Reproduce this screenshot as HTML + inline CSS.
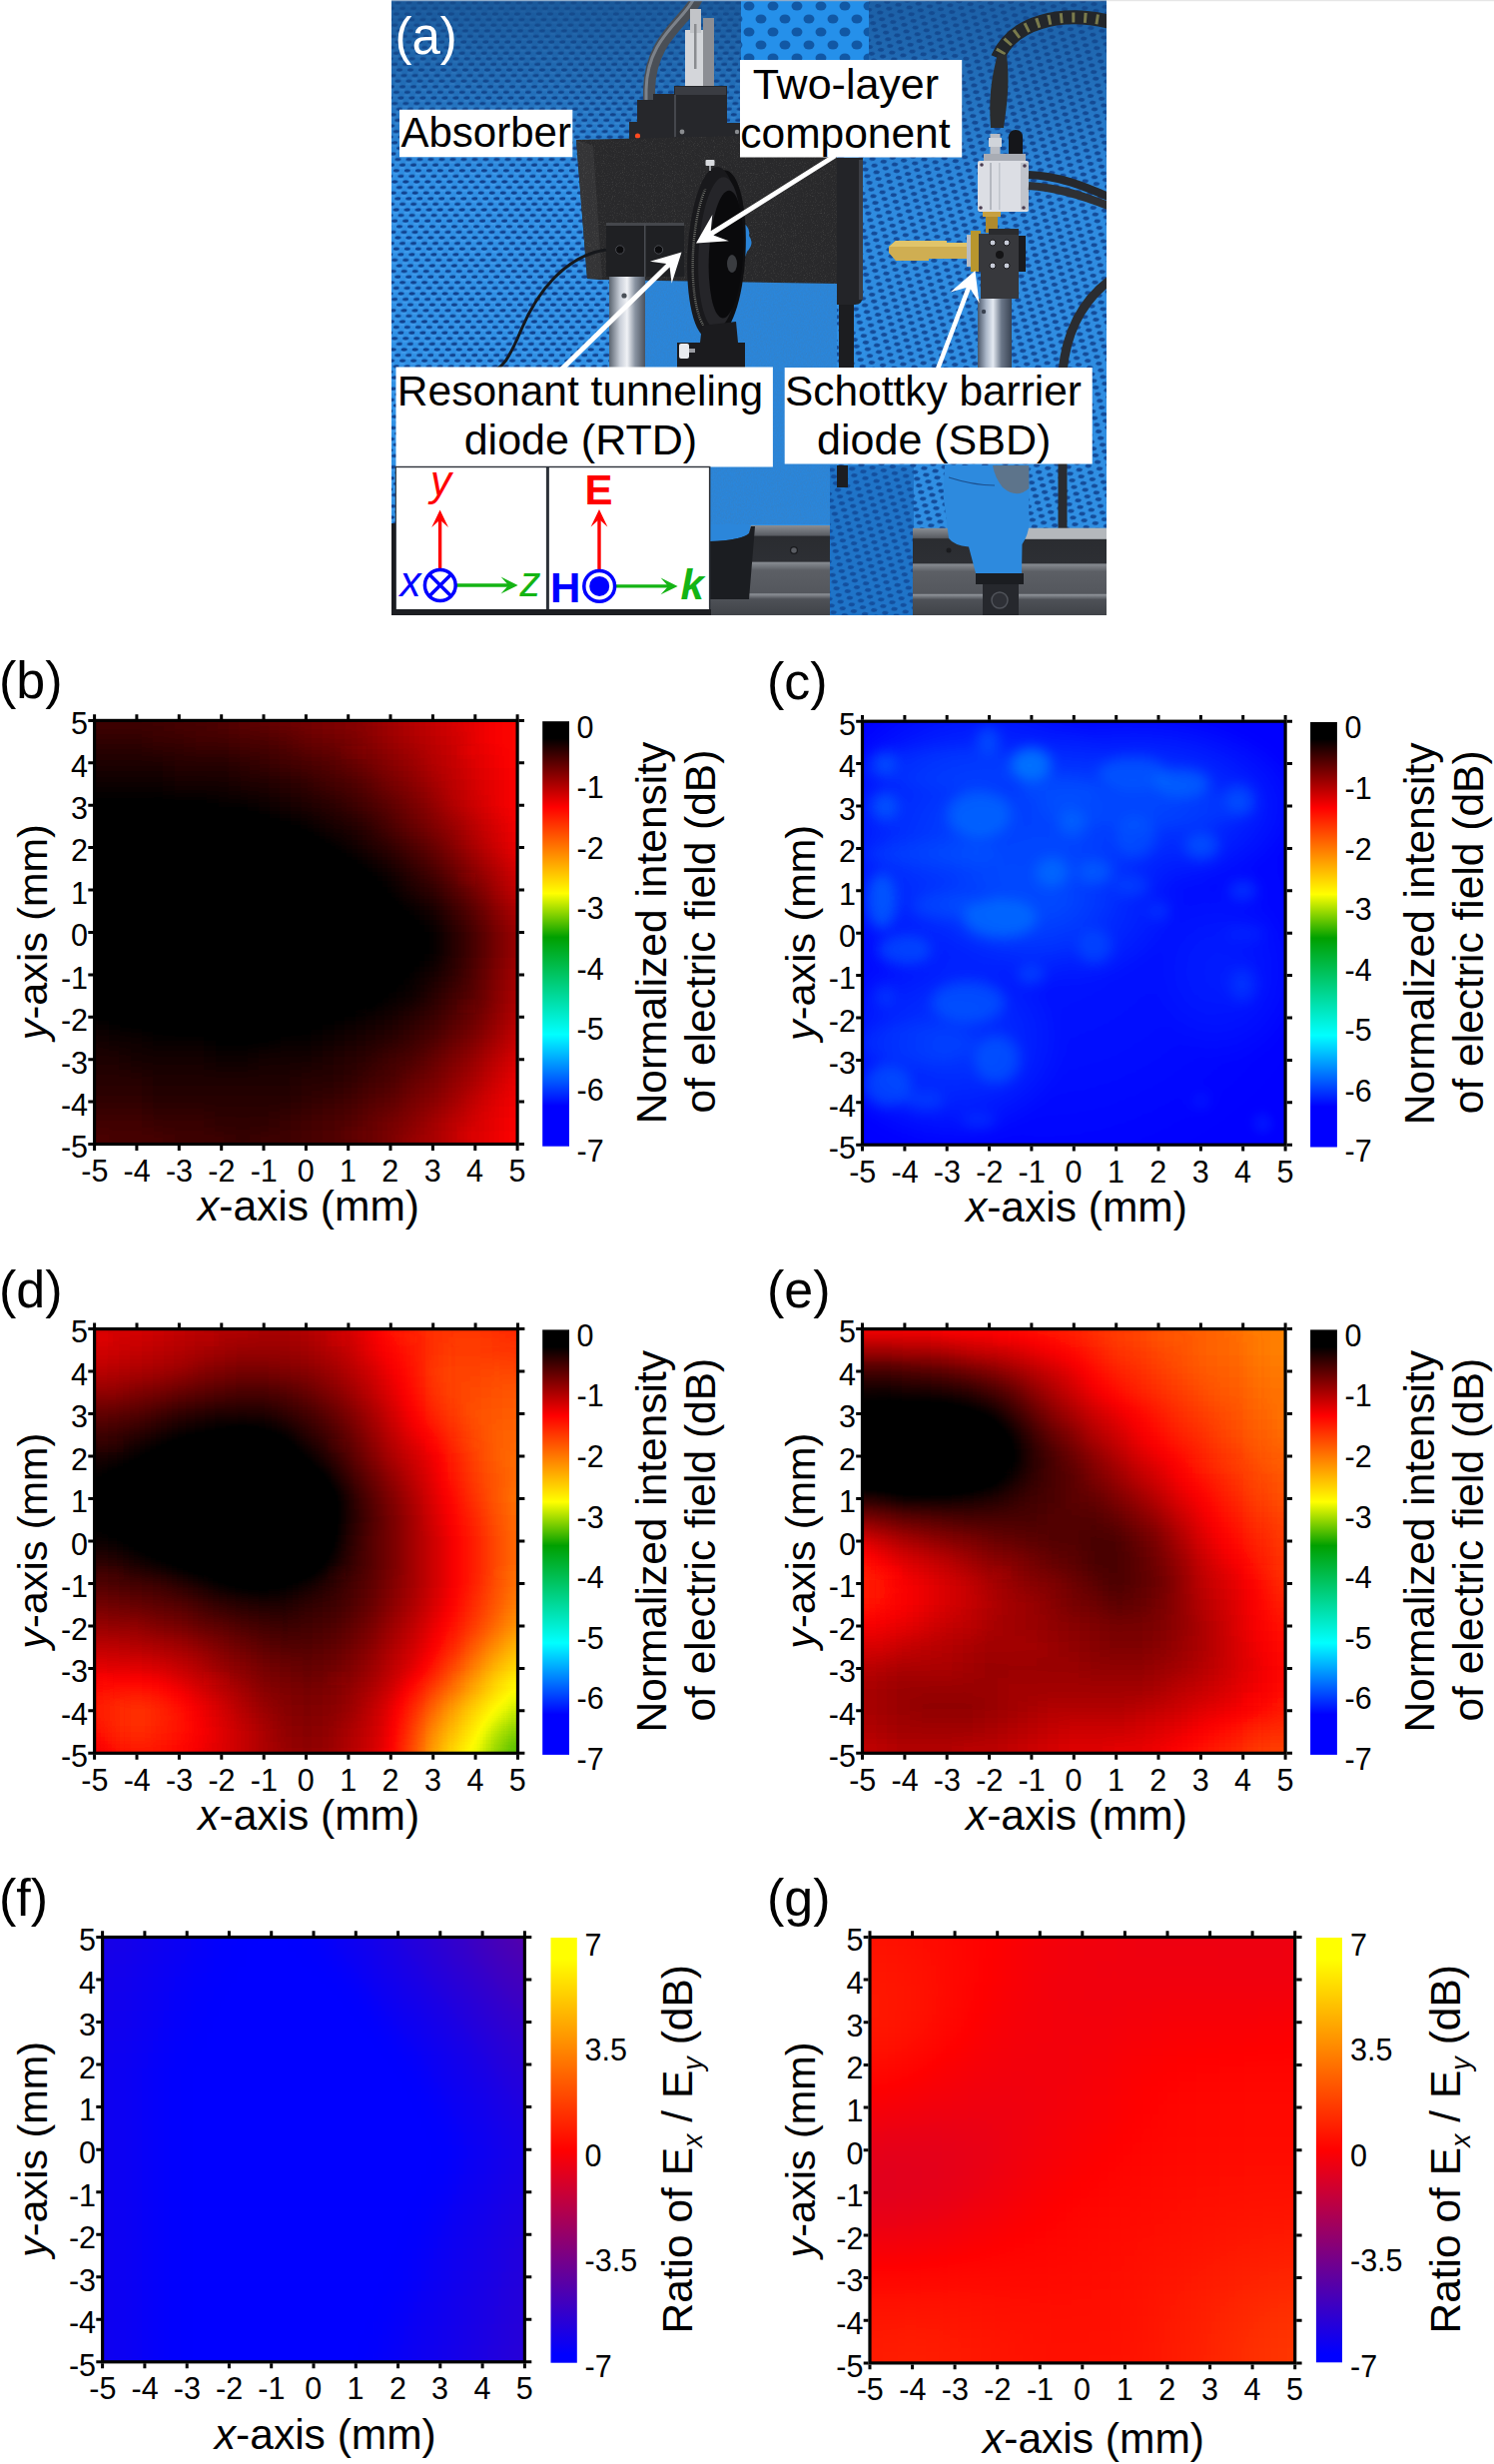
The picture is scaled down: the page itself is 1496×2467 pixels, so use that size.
<!DOCTYPE html>
<html><head><meta charset="utf-8"><title>Figure</title>
<style>
html,body{margin:0;padding:0;background:#fff;}
svg{display:block;}
text{font-family:'Liberation Sans', sans-serif;fill:#000;}
</style></head><body>
<svg width="1496" height="2467" viewBox="0 0 1496 2467">
<defs>
<linearGradient id="cm1" x1="0" y1="0" x2="0" y2="1"><stop offset="0.000" stop-color="#000000"/><stop offset="0.040" stop-color="#000000"/><stop offset="0.202" stop-color="#ff0000"/><stop offset="0.405" stop-color="#ffff00"/><stop offset="0.508" stop-color="#00a000"/><stop offset="0.737" stop-color="#00ffff"/><stop offset="0.905" stop-color="#0000ff"/><stop offset="1.000" stop-color="#0000ff"/></linearGradient>
<linearGradient id="cm2" x1="0" y1="0" x2="0" y2="1"><stop offset="0.000" stop-color="#ffff00"/><stop offset="0.050" stop-color="#ffff00"/><stop offset="0.500" stop-color="#ff0000"/><stop offset="0.980" stop-color="#0000ff"/><stop offset="1.000" stop-color="#0000ff"/></linearGradient>
<filter id="fB" filterUnits="userSpaceOnUse" x="-100" y="-100" width="700" height="700" color-interpolation-filters="sRGB"><feGaussianBlur stdDeviation="9"/><feComponentTransfer><feFuncR type="table" tableValues="0.000 0.000 0.000 0.000 0.000 0.000 0.000 0.000 0.000 0.000 0.000 0.000 0.000 0.000 0.000 0.000 0.000 0.061 0.131 0.202 0.272 0.342 0.412 0.482 0.553 0.623 0.693 0.763 0.833 0.904 0.974 1.000 1.000 1.000 1.000 1.000 1.000 1.000 1.000 1.000 1.000 1.000 1.000 1.000 1.000 1.000 1.000 1.000 1.000 0.925 0.815 0.705 0.595 0.485 0.375 0.265 0.155 0.045 0.000 0.000 0.000 0.000 0.000 0.000"/><feFuncG type="table" tableValues="0.000 0.000 0.000 0.000 0.000 0.000 0.000 0.000 0.000 0.000 0.000 0.000 0.000 0.000 0.000 0.000 0.000 0.000 0.000 0.000 0.000 0.000 0.000 0.000 0.000 0.000 0.000 0.000 0.000 0.000 0.000 0.035 0.091 0.146 0.202 0.258 0.314 0.369 0.425 0.481 0.536 0.592 0.648 0.704 0.759 0.815 0.871 0.926 0.982 0.972 0.931 0.890 0.849 0.808 0.767 0.726 0.685 0.644 0.638 0.657 0.675 0.694 0.712 0.731"/><feFuncB type="table" tableValues="0.000 0.000 0.000 0.000 0.000 0.000 0.000 0.000 0.000 0.000 0.000 0.000 0.000 0.000 0.000 0.000 0.000 0.000 0.000 0.000 0.000 0.000 0.000 0.000 0.000 0.000 0.000 0.000 0.000 0.000 0.000 0.000 0.000 0.000 0.000 0.000 0.000 0.000 0.000 0.000 0.000 0.000 0.000 0.000 0.000 0.000 0.000 0.000 0.000 0.000 0.000 0.000 0.000 0.000 0.000 0.000 0.000 0.000 0.029 0.079 0.128 0.178 0.227 0.277"/><feFuncA type="linear" slope="0" intercept="1"/></feComponentTransfer></filter>
<filter id="fC" filterUnits="userSpaceOnUse" x="-100" y="-100" width="700" height="700" color-interpolation-filters="sRGB"><feGaussianBlur stdDeviation="6.5"/><feComponentTransfer><feFuncR type="table" tableValues="0.000 0.000 0.000 0.000 0.000 0.000 0.000 0.000 0.000 0.000 0.000 0.000 0.000 0.000 0.000 0.000 0.000 0.000 0.000 0.000 0.000 0.000 0.000 0.000 0.000 0.000 0.000 0.000 0.000 0.000 0.000 0.000 0.000 0.000 0.000 0.000 0.000 0.000 0.000 0.000 0.000 0.000 0.000 0.000 0.000 0.000 0.000 0.000 0.000 0.000 0.000 0.000 0.000 0.000 0.000 0.000 0.000 0.000 0.000 0.000 0.000 0.000 0.000 0.000"/><feFuncG type="table" tableValues="0.731 0.742 0.753 0.764 0.775 0.786 0.797 0.808 0.819 0.830 0.841 0.852 0.863 0.875 0.886 0.897 0.908 0.919 0.930 0.941 0.952 0.963 0.974 0.985 0.996 0.973 0.933 0.892 0.852 0.811 0.771 0.730 0.690 0.649 0.609 0.568 0.528 0.487 0.447 0.406 0.366 0.325 0.285 0.244 0.204 0.163 0.123 0.082 0.042 0.001 0.000 0.000 0.000 0.000 0.000 0.000 0.000 0.000 0.000 0.000 0.000 0.000 0.000 0.000"/><feFuncB type="table" tableValues="0.277 0.307 0.336 0.366 0.396 0.426 0.455 0.485 0.515 0.544 0.574 0.604 0.633 0.663 0.693 0.723 0.752 0.782 0.812 0.841 0.871 0.901 0.931 0.960 0.990 1.000 1.000 1.000 1.000 1.000 1.000 1.000 1.000 1.000 1.000 1.000 1.000 1.000 1.000 1.000 1.000 1.000 1.000 1.000 1.000 1.000 1.000 1.000 1.000 1.000 1.000 1.000 1.000 1.000 1.000 1.000 1.000 1.000 1.000 1.000 1.000 1.000 1.000 1.000"/><feFuncA type="linear" slope="0" intercept="1"/></feComponentTransfer></filter>
<filter id="fF" filterUnits="userSpaceOnUse" x="-100" y="-100" width="700" height="700" color-interpolation-filters="sRGB"><feGaussianBlur stdDeviation="20"/><feComponentTransfer><feFuncR type="table" tableValues="1.000 0.983 0.967 0.950 0.934 0.917 0.901 0.884 0.868 0.851 0.835 0.818 0.802 0.785 0.769 0.752 0.735 0.719 0.702 0.686 0.669 0.653 0.636 0.620 0.603 0.587 0.570 0.554 0.537 0.521 0.504 0.487 0.471 0.454 0.438 0.421 0.405 0.388 0.372 0.355 0.339 0.322 0.306 0.289 0.272 0.256 0.239 0.223 0.206 0.190 0.173 0.157 0.140 0.124 0.107 0.091 0.074 0.058 0.041 0.024 0.008 0.000 0.000 0.000"/><feFuncG type="table" tableValues="0.000 0.000 0.000 0.000 0.000 0.000 0.000 0.000 0.000 0.000 0.000 0.000 0.000 0.000 0.000 0.000 0.000 0.000 0.000 0.000 0.000 0.000 0.000 0.000 0.000 0.000 0.000 0.000 0.000 0.000 0.000 0.000 0.000 0.000 0.000 0.000 0.000 0.000 0.000 0.000 0.000 0.000 0.000 0.000 0.000 0.000 0.000 0.000 0.000 0.000 0.000 0.000 0.000 0.000 0.000 0.000 0.000 0.000 0.000 0.000 0.000 0.000 0.000 0.000"/><feFuncB type="table" tableValues="0.000 0.017 0.033 0.050 0.066 0.083 0.099 0.116 0.132 0.149 0.165 0.182 0.198 0.215 0.231 0.248 0.265 0.281 0.298 0.314 0.331 0.347 0.364 0.380 0.397 0.413 0.430 0.446 0.463 0.479 0.496 0.513 0.529 0.546 0.562 0.579 0.595 0.612 0.628 0.645 0.661 0.678 0.694 0.711 0.728 0.744 0.761 0.777 0.794 0.810 0.827 0.843 0.860 0.876 0.893 0.909 0.926 0.942 0.959 0.976 0.992 1.000 1.000 1.000"/><feFuncA type="linear" slope="0" intercept="1"/></feComponentTransfer></filter>
<filter id="fG" filterUnits="userSpaceOnUse" x="-100" y="-100" width="700" height="700" color-interpolation-filters="sRGB"><feGaussianBlur stdDeviation="20"/><feComponentTransfer><feFuncR type="table" tableValues="1.000 1.000 1.000 1.000 1.000 1.000 1.000 1.000 1.000 1.000 1.000 1.000 1.000 1.000 1.000 1.000 1.000 1.000 1.000 1.000 1.000 1.000 1.000 1.000 1.000 1.000 1.000 1.000 1.000 1.000 1.000 1.000 1.000 1.000 1.000 1.000 1.000 0.983 0.967 0.950 0.934 0.917 0.901 0.884 0.868 0.851 0.835 0.818 0.802 0.785 0.769 0.752 0.735 0.719 0.702 0.686 0.669 0.653 0.636 0.620 0.603 0.587 0.570 0.554"/><feFuncG type="table" tableValues="0.635 0.617 0.600 0.582 0.564 0.547 0.529 0.511 0.494 0.476 0.459 0.441 0.423 0.406 0.388 0.370 0.353 0.335 0.317 0.300 0.282 0.265 0.247 0.229 0.212 0.194 0.176 0.159 0.141 0.123 0.106 0.088 0.071 0.053 0.035 0.018 0.000 0.000 0.000 0.000 0.000 0.000 0.000 0.000 0.000 0.000 0.000 0.000 0.000 0.000 0.000 0.000 0.000 0.000 0.000 0.000 0.000 0.000 0.000 0.000 0.000 0.000 0.000 0.000"/><feFuncB type="table" tableValues="0.000 0.000 0.000 0.000 0.000 0.000 0.000 0.000 0.000 0.000 0.000 0.000 0.000 0.000 0.000 0.000 0.000 0.000 0.000 0.000 0.000 0.000 0.000 0.000 0.000 0.000 0.000 0.000 0.000 0.000 0.000 0.000 0.000 0.000 0.000 0.000 0.000 0.017 0.033 0.050 0.066 0.083 0.099 0.116 0.132 0.149 0.165 0.182 0.198 0.215 0.231 0.248 0.265 0.281 0.298 0.314 0.331 0.347 0.364 0.380 0.397 0.413 0.430 0.446"/><feFuncA type="linear" slope="0" intercept="1"/></feComponentTransfer></filter>
<radialGradient id="cg"><stop offset="0" stop-color="#959595" stop-opacity="1"/><stop offset=".55" stop-color="#959595" stop-opacity=".55"/><stop offset="1" stop-color="#959595" stop-opacity="0"/></radialGradient>
<clipPath id="cpb"><rect x="0" y="0" width="423.5" height="424.1"/></clipPath>
<clipPath id="cpc"><rect x="0" y="0" width="423.6" height="424.0"/></clipPath>
<clipPath id="cpd"><rect x="0" y="0" width="423.9" height="424.7"/></clipPath>
<clipPath id="cpe"><rect x="0" y="0" width="423.6" height="424.7"/></clipPath>
<clipPath id="cpf"><rect x="0" y="0" width="422.8" height="425.3"/></clipPath>
<clipPath id="cpg"><rect x="0" y="0" width="425.7" height="426.4"/></clipPath>
</defs>
<rect width="1496" height="2467" fill="#fff"/>
<defs>
<clipPath id="cpa"><rect x="392" y="0" width="716" height="616"/></clipPath>
<pattern id="dim" width="11" height="11.2" patternUnits="userSpaceOnUse" patternTransform="skewX(-8)"><ellipse cx="2.8" cy="2.8" rx="3.1" ry="1.55" fill="#0a3480" opacity=".88"/><ellipse cx="8.3" cy="8.4" rx="3.1" ry="1.55" fill="#0a3480" opacity=".88"/><ellipse cx="2.8" cy="5.8" rx="3" ry="1.2" fill="#58aaf4" opacity=".4"/><ellipse cx="8.3" cy="11.4" rx="3" ry="1.2" fill="#58aaf4" opacity=".4"/><ellipse cx="8.3" cy=".2" rx="3" ry="1.2" fill="#58aaf4" opacity=".4"/></pattern>
<pattern id="dim2" width="11.5" height="12" patternUnits="userSpaceOnUse" patternTransform="rotate(14) skewX(-20)"><ellipse cx="2.9" cy="3" rx="2.9" ry="2" fill="#0b3884" opacity=".78"/><ellipse cx="8.6" cy="9" rx="2.9" ry="2" fill="#0b3884" opacity=".78"/></pattern>
<pattern id="dim3" width="24" height="26" patternUnits="userSpaceOnUse"><ellipse cx="6" cy="6" rx="5.5" ry="4.5" fill="#0c4a94" opacity=".8"/><ellipse cx="18" cy="19" rx="5.5" ry="4.5" fill="#0c4a94" opacity=".8"/></pattern>
<linearGradient id="bgl" x1="0" y1="0" x2="0" y2="1"><stop offset="0" stop-color="#2478c8"/><stop offset=".3" stop-color="#2f8fe4"/><stop offset="1" stop-color="#3092e6"/></linearGradient>
<linearGradient id="shade" x1="0" y1="0" x2="0" y2="1"><stop offset="0" stop-color="#17508e" stop-opacity=".78"/><stop offset=".45" stop-color="#17508e" stop-opacity=".45"/><stop offset="1" stop-color="#17508e" stop-opacity="0"/></linearGradient>
<linearGradient id="bgr" x1="0" y1="0" x2="0" y2="1"><stop offset="0" stop-color="#2272c2"/><stop offset=".35" stop-color="#2f8ce0"/><stop offset="1" stop-color="#3090e4"/></linearGradient>
<linearGradient id="post" x1="0" y1="0" x2="1" y2="0"><stop offset="0" stop-color="#5a6470"/><stop offset=".3" stop-color="#c8ced8"/><stop offset=".5" stop-color="#f0f2f6"/><stop offset=".72" stop-color="#8a94a2"/><stop offset="1" stop-color="#4a525e"/></linearGradient>
<linearGradient id="post2" x1="0" y1="0" x2="1" y2="0"><stop offset="0" stop-color="#4a5668"/><stop offset=".25" stop-color="#aab6c8"/><stop offset=".45" stop-color="#e4eaf2"/><stop offset=".7" stop-color="#6a7688"/><stop offset="1" stop-color="#3a4454"/></linearGradient>
<linearGradient id="rail" x1="0" y1="0" x2="0" y2="1"><stop offset="0" stop-color="#8a8e94"/><stop offset=".11" stop-color="#5a5d63"/><stop offset=".125" stop-color="#2a2c30"/><stop offset=".40" stop-color="#2d2f34"/><stop offset=".415" stop-color="#868a90"/><stop offset=".5" stop-color="#5c5f65"/><stop offset=".75" stop-color="#54575d"/><stop offset=".765" stop-color="#8c9096"/><stop offset=".82" stop-color="#4e5157"/><stop offset="1" stop-color="#404348"/></linearGradient>
<filter id="noise" x="0" y="0" width="1" height="1"><feTurbulence type="fractalNoise" baseFrequency=".9" numOctaves="2" seed="4"/><feColorMatrix values="0 0 0 0 .55  0 0 0 0 .55  0 0 0 0 .5  .9 0 0 0 -.48"/></filter>
<filter id="fnoise" x="0" y="0" width="1" height="1"><feTurbulence type="fractalNoise" baseFrequency=".7" numOctaves="2" seed="9"/><feColorMatrix values="0 0 0 0 .05  0 0 0 0 .2  0 0 0 0 .45  1.6 0 0 0 -.62"/></filter>
<filter id="soft" x="-5%" y="-5%" width="110%" height="110%"><feGaussianBlur stdDeviation=".7"/></filter>
<clipPath id="cpabs"><path d="M577 140L740 136H838V284L600 280L588 279Z"/></clipPath><clipPath id="cpfoam"><path d="M646 276H838V525H700V560H610V420H646ZM600 466H745V540Q745 556 728 562H600Z"/></clipPath><clipPath id="cpring"><rect x="680" y="190" width="34" height="160"/></clipPath></defs>
<g clip-path="url(#cpa)">
<rect x="392" y="0" width="716" height="616" fill="url(#bgl)"/>
<rect x="866" y="0" width="242" height="616" fill="url(#bgr)"/>
<rect x="392" y="0" width="350" height="616" fill="url(#dim)"/>
<rect x="838" y="0" width="270" height="616" fill="url(#dim2)"/>
<rect x="392" y="0" width="350" height="175" fill="url(#shade)"/>
<rect x="866" y="0" width="242" height="170" fill="url(#shade)" opacity=".7"/>
<rect x="742" y="0" width="128" height="62" fill="#2590ea"/>
<rect x="742" y="0" width="128" height="62" fill="url(#dim3)"/>
<path d="M646 276H838V525H700V560H610V420H646Z" fill="#2b86da"/>
<path d="M600 466H745V540Q745 556 728 562H600Z" fill="#2b86da"/>
<rect x="600" y="276" width="240" height="290" filter="url(#fnoise)" clip-path="url(#cpfoam)" opacity=".55"/>
<rect x="831" y="466" width="84" height="150" fill="#1f74c8"/>
<rect x="831" y="466" width="84" height="150" fill="url(#dim2)" opacity=".8"/>
<path d="M699 -4C690 20 651 36 650 90V130" fill="none" stroke="#4a4f56" stroke-width="12" stroke-linecap="round"/>
<path d="M696 -4C687 20 648 36 647 90V130" fill="none" stroke="#7c828a" stroke-width="3"/>
<rect x="686" y="30" width="24" height="57" fill="#d4d6da"/>
<rect x="691" y="9" width="11" height="24" fill="#c2c4c8"/>
<rect x="695" y="24" width="2.5" height="45" fill="#8a8c90"/>
<rect x="704" y="18" width="11" height="69" fill="#8c8e94"/>
<path d="M638 100H654V94H675V86H728V123H741V140H630V122H638Z" fill="#26272b"/>
<rect x="676" y="87" width="51" height="8" fill="#3a3c42"/>
<rect x="675" y="95" width="2" height="42" fill="#45474d"/>
<circle cx="638.5" cy="136" r="2.6" fill="#ff4a20"/>
<circle cx="683" cy="132" r="2.4" fill="#8a8c90"/><circle cx="738" cy="132" r="2.2" fill="#8a8c90"/>
<path d="M577 140L740 136H838V284L600 280L588 279Z" fill="#29292b"/>
<path d="M577 140L594 146L603 279L588 279Z" fill="#343436"/>
<rect x="577" y="136" width="262" height="150" filter="url(#noise)" opacity=".5" clip-path="url(#cpabs)"/>
<path d="M741 222Q752 226 750 236Q756 244 748 252Q746 260 740 262Z" fill="#2a84d8"/>
<path d="M838 158H864V296Q864 305 856 305H838Z" fill="#232428"/>
<rect x="860" y="160" width="4" height="140" fill="#3c3e44"/>
<rect x="840" y="305" width="15" height="64" fill="#1c1d20"/>
<rect x="838" y="466" width="11" height="22" fill="#1c1d20"/>
<rect x="610" y="276" width="36" height="92" fill="url(#post)"/>
<circle cx="625" cy="296" r="2.6" fill="#4a5058"/>
<rect x="607" y="223" width="78" height="54" fill="#1f2023"/>
<rect x="607" y="223" width="78" height="3" fill="#45474c"/>
<rect x="645" y="224" width="1.5" height="53" fill="#4a4c52"/>
<circle cx="620.8" cy="250" r="4.2" fill="#0c0c0e" stroke="#4a4c52" stroke-width="1"/>
<circle cx="659.5" cy="250" r="4.2" fill="#0c0c0e" stroke="#4a4c52" stroke-width="1"/>
<path d="M607 250C566 256 538 292 522 330S502 366 494 372" fill="none" stroke="#16181c" stroke-width="3"/>
<g transform="rotate(3 716 253)">
<ellipse cx="722" cy="253" rx="24.5" ry="83" fill="#0e0e10"/>
<ellipse cx="714" cy="253" rx="25.5" ry="86" fill="#19191c"/>
<ellipse cx="721" cy="253" rx="21.5" ry="76" fill="#252529"/>
<ellipse cx="727" cy="254" rx="17" ry="64" fill="#0a0a0c"/>
<ellipse cx="716.5" cy="253" rx="22.5" ry="79" fill="none" stroke="#85877f" stroke-width="2.4" stroke-dasharray=".8 1.4" pathLength="360" stroke-dashoffset="0" clip-path="url(#cpring)"/>
</g>
<ellipse cx="733" cy="264" rx="5" ry="9" fill="#3a3c40"/>
<rect x="706.5" y="160" width="9" height="6" rx="1" fill="#d8dade"/><rect x="710" y="166" width="2" height="5" fill="#9a9ca0"/>
<path d="M703 326L737 322L739 343H746V368H678V343H701Z" fill="#1b1b1e"/>
<rect x="680" y="344" width="10" height="15" rx="2" fill="#e8eaee"/>
<rect x="690" y="349" width="6" height="4" fill="#9a9ca2"/>
<path d="M1112 22C1062 10 1014 22 999 58" fill="none" stroke="#23262a" stroke-width="14"/>
<path d="M1112 22C1062 10 1014 22 999 58" fill="none" stroke="#a8a860" stroke-width="10" stroke-dasharray="3 9" opacity=".65"/>
<path d="M999 54C992 80 990 100 992 128H1005C1009 100 1011 80 1008 55Z" fill="#2a2c2e"/>
<rect x="991.5" y="134" width="10" height="20" fill="#b8bcc4"/><rect x="990" y="138" width="13" height="9" fill="#d0d4da"/>
<path d="M1010 157V138Q1010 130 1017 130Q1024 130 1024 138V157Z" fill="#15161a"/>
<rect x="985" y="154" width="42" height="8" fill="#a8acb4"/>
<rect x="979" y="161" width="51" height="51" rx="2" fill="#dcdee4"/>
<rect x="991" y="163" width="2" height="47" fill="#b4b8c0"/><rect x="1000" y="163" width="1.5" height="47" fill="#c0c4cc"/>
<rect x="1022" y="163" width="8" height="47" fill="#c0c4cc"/>
<circle cx="983" cy="165" r="1.8" fill="#4a3c50"/>
<circle cx="1026" cy="166" r="1.8" fill="#4a3c50"/>
<circle cx="982" cy="208" r="1.8" fill="#4a3c50"/>
<circle cx="1025" cy="208" r="1.8" fill="#4a3c50"/>
<path d="M1030 175C1060 176 1085 186 1112 198" fill="none" stroke="#26282c" stroke-width="8"/>
<path d="M1030 186C1060 188 1085 196 1112 207" fill="none" stroke="#2e3034" stroke-width="8"/>
<rect x="987" y="213" width="12" height="20" fill="#b08a2c"/><rect x="984" y="212" width="18" height="5" fill="#c8a040"/>
<path d="M890 247L897 241H948V243H969V259H930V261H897L890 253Z" fill="#cfae52"/>
<path d="M890 247L897 241H948V243H969V247Z" fill="#e0c46a"/>
<rect x="968" y="235" width="5" height="32" fill="#b8bcc4"/>
<rect x="972" y="231" width="10" height="41" fill="#b8962e"/>
<path d="M980 234H1020V299H982V272H980Z" fill="#37383c"/>
<rect x="1020" y="236" width="7" height="36" fill="#1a1b1e"/>
<rect x="990" y="229" width="30" height="6" fill="#2a2b2e"/>
<circle cx="994" cy="243" r="3" fill="#c8ccd8" stroke="#1a1a1e" stroke-width="1"/>
<circle cx="1008" cy="243" r="3" fill="#c8ccd8" stroke="#1a1a1e" stroke-width="1"/>
<circle cx="994" cy="266" r="3" fill="#c8ccd8" stroke="#1a1a1e" stroke-width="1"/>
<circle cx="1008" cy="266" r="3" fill="#c8ccd8" stroke="#1a1a1e" stroke-width="1"/>
<circle cx="1001" cy="255" r="4" fill="#141416"/>
<rect x="979" y="299" width="34" height="70" fill="url(#post2)"/>
<circle cx="985" cy="312" r="2.2" fill="#3a4250"/>
<path d="M1112 280C1085 300 1068 330 1064 372V530" fill="none" stroke="#2a2c30" stroke-width="9"/>
<path d="M392 524H600V616H392Z" fill="#1a1b1f"/>
<rect x="711" y="526" width="120" height="90" fill="url(#rail)"/>
<path d="M700 525H752L750 534Q742 541 711 542H700Z" fill="#2b86da"/>
<path d="M700 542H711Q742 541 750 534L752 527H756L750 600H700Z" fill="#1b1d21"/>
<circle cx="795" cy="551" r="3.4" fill="#5a5d63" stroke="#18191c" stroke-width="1.2"/>
<rect x="914" y="528.8" width="194" height="87.2" fill="url(#rail)"/>
<rect x="1026" y="528.8" width="82" height="11" fill="#b4b8bc"/>
<circle cx="950" cy="551" r="2.5" fill="#1a1b1e"/>
<rect x="977" y="574" width="48" height="11" fill="#1b1d21"/>
<rect x="984" y="585" width="36" height="31" fill="#26282d"/>
<circle cx="1001" cy="601" r="8" fill="#2e3036" stroke="#50535a" stroke-width="1.5"/>
<path d="M946 466L944.6 497L950 539Q955 546 970 547.5L977 574H1023L1023.5 545Q1030 535 1030.3 525V466Z" fill="#2d8ade"/>
<path d="M994 466H1030.3V489Q1018 500 1004 488Q996 478 994 466Z" fill="#66707c" opacity=".85"/>
<path d="M950 478Q975 486 996 486" fill="none" stroke="#1c4f8c" stroke-width="1.2"/>
<path d="M834.7 153.9L711.7 231.3L713.3 214.9L697.0 243.5L729.8 241.2L714.4 235.5L837.3 158.1Z" fill="#fff"/>
<path d="M561.7 373.8L670.6 267.6L672.6 283.8L682.5 252.5L650.9 261.7L667.2 264.0L558.3 370.2Z" fill="#fff"/>
<path d="M940.1 372.8L971.8 289.6L980.6 303.6L976.4 271.0L951.6 292.6L967.5 287.9L935.9 371.2Z" fill="#fff"/>
<rect x="400" y="109.8" width="173.3" height="47.4" fill="#fff"/>
<text x="401.5" y="147.3" font-size="42">Absorber</text>
<rect x="741" y="60" width="222.2" height="97.5" fill="#fff"/>
<text x="846.9" y="99" font-size="43" text-anchor="middle">Two-layer</text>
<text x="846.4" y="148" font-size="42.5" text-anchor="middle">component</text>
<rect x="396.5" y="367.5" width="377.4" height="100" fill="#fff"/>
<text x="581" y="405.6" font-size="42.5" text-anchor="middle">Resonant tunneling</text>
<text x="581.4" y="454.6" font-size="43" text-anchor="middle">diode (RTD)</text>
<rect x="785.7" y="368" width="308" height="96.5" fill="#fff"/>
<text x="934.5" y="406.3" font-size="42.4" text-anchor="middle">Schottky barrier</text>
<text x="935.2" y="454.6" font-size="43" text-anchor="middle">diode (SBD)</text>
<text x="395.5" y="53.5" font-size="51" style="fill:#fff">(a)</text>
<rect x="395.8" y="466.8" width="315.6" height="145" fill="#2c3138"/>
<rect x="396.9" y="468.2" width="150" height="141.8" fill="#fff"/>
<rect x="549.9" y="468.2" width="160" height="141.8" fill="#fff"/>
<rect x="392" y="610" width="320" height="6" fill="#1c1e22"/>
<path d="M440.6 570.0V518.5" stroke="#ff0000" stroke-width="3.4" fill="none"/><path d="M440.6 510.5l8.4 17.5l-8.4 -7.5l-8.4 7.5z" fill="#ff0000"/>
<path d="M457.0 586.0H510.6" stroke="#14b414" stroke-width="3.4" fill="none"/><path d="M518.6 586.0l-17 8.4l7.5 -8.4l-7.5 -8.4z" fill="#14b414"/>
<circle cx="440.8" cy="586" r="15.4" fill="#fff" stroke="#0000ff" stroke-width="3.5"/>
<path d="M430 575.2L451.6 596.8M451.6 575.2L430 596.8" stroke="#0000ff" stroke-width="3.4"/>
<text x="400.5" y="596.7" font-size="42" font-style="italic" style="fill:#0000ff">x</text>
<text x="520.5" y="596.7" font-size="42" font-style="italic" style="fill:#14b414">z</text>
<text x="431" y="496" font-size="42" font-style="italic" style="fill:#ff0000">y</text>
<path d="M600.0 570.0V518.0" stroke="#ff0000" stroke-width="3.4" fill="none"/><path d="M600.0 510.0l8.4 17.5l-8.4 -7.5l-8.4 7.5z" fill="#ff0000"/>
<path d="M617.0 586.9H670.6" stroke="#14b414" stroke-width="3.4" fill="none"/><path d="M678.6 586.9l-17 8.4l7.5 -8.4l-7.5 -8.4z" fill="#14b414"/>
<circle cx="600.2" cy="586.9" r="15.4" fill="#fff" stroke="#0000ff" stroke-width="3.5"/>
<circle cx="600.2" cy="586.9" r="10" fill="#0000ff"/>
<text x="551" y="602.8" font-size="42" font-weight="bold" style="fill:#0000ff">H</text>
<text x="585.5" y="504.8" font-size="42" font-weight="bold" style="fill:#ff0000">E</text>
<text x="681.5" y="600.4" font-size="42" font-weight="bold" font-style="italic" style="fill:#14b414">k</text>
</g>
<rect x="392" y="0" width="716" height="1.2" fill="#8faccb"/><rect x="1108" y="0" width="388" height="1.2" fill="#e6e6e6"/>
<g transform="translate(94.6 721.4)"><g clip-path="url(#cpb)"><g filter="url(#fB)"><path fill="#242424" d="M95.3 180h21.7v21.7h-21.7zM52.9 201.2h106.4v21.7h-106.4zM52.9 222.3h106.4v21.7h-106.4z"/><path fill="#262626" d="M52.9 180h42.9v21.7h-42.9zM116.5 180h42.9v21.7h-42.9zM31.8 201.2h21.7v21.7h-21.7zM158.8 201.2h21.7v21.7h-21.7zM31.8 222.3h21.7v21.7h-21.7zM158.8 222.3h21.7v21.7h-21.7zM74.1 243.5h64v21.7h-64z"/><path fill="#282828" d="M74.1 158.8h64v21.7h-64zM31.8 180h21.7v21.7h-21.7zM158.8 180h21.7v21.7h-21.7zM180 201.2h21.7v21.7h-21.7zM180 222.3h21.7v21.7h-21.7zM31.8 243.5h42.9v21.7h-42.9zM137.6 243.5h42.9v21.7h-42.9z"/><path fill="#2a2a2a" d="M52.9 158.8h21.7v21.7h-21.7zM137.6 158.8h21.7v21.7h-21.7zM180 180h21.7v21.7h-21.7zM10.6 201.2h21.7v21.7h-21.7zM10.6 222.3h21.7v21.7h-21.7z"/><path fill="#2c2c2c" d="M31.8 158.8h21.7v21.7h-21.7zM158.8 158.8h21.7v21.7h-21.7zM10.6 180h21.7v21.7h-21.7zM201.2 180h21.7v21.7h-21.7zM201.2 201.2h21.7v21.7h-21.7zM201.2 222.3h21.7v21.7h-21.7zM10.6 243.5h21.7v21.7h-21.7zM180 243.5h21.7v21.7h-21.7z"/><path fill="#2e2e2e" d="M74.1 137.6h64v21.7h-64zM10.6 158.8h21.7v21.7h-21.7zM180 158.8h21.7v21.7h-21.7zM-52.9 180h64v21.7h-64zM-52.9 201.2h64v21.7h-64zM222.3 201.2h21.7v21.7h-21.7zM-52.9 222.3h64v21.7h-64zM222.3 222.3h21.7v21.7h-21.7zM201.2 243.5h21.7v21.7h-21.7z"/><path fill="#303030" d="M31.8 137.6h42.9v21.7h-42.9zM137.6 137.6h21.7v21.7h-21.7zM-52.9 158.8h64v21.7h-64zM201.2 158.8h21.7v21.7h-21.7zM222.3 180h21.7v21.7h-21.7zM-52.9 243.5h64v21.7h-64zM222.3 243.5h21.7v21.7h-21.7zM74.1 264.7h85.2v21.7h-85.2z"/><path fill="#323232" d="M10.6 137.6h21.7v21.7h-21.7zM158.8 137.6h21.7v21.7h-21.7zM243.5 222.3h21.7v21.7h-21.7zM52.9 264.7h21.7v21.7h-21.7zM158.8 264.7h42.9v21.7h-42.9z"/><path fill="#343434" d="M-52.9 137.6h64v21.7h-64zM180 137.6h21.7v21.7h-21.7zM222.3 158.8h21.7v21.7h-21.7zM243.5 180h21.7v21.7h-21.7zM243.5 201.2h21.7v21.7h-21.7zM243.5 243.5h21.7v21.7h-21.7zM31.8 264.7h21.7v21.7h-21.7z"/><path fill="#363636" d="M31.8 116.5h127.6v21.7h-127.6zM201.2 137.6h21.7v21.7h-21.7zM264.7 222.3h21.7v21.7h-21.7zM10.6 264.7h21.7v21.7h-21.7zM201.2 264.7h21.7v21.7h-21.7z"/><path fill="#383838" d="M-52.9 116.5h85.2v21.7h-85.2zM158.8 116.5h21.7v21.7h-21.7zM243.5 158.8h21.7v21.7h-21.7zM264.7 201.2h21.7v21.7h-21.7zM264.7 243.5h21.7v21.7h-21.7zM222.3 264.7h21.7v21.7h-21.7z"/><path fill="#3a3a3a" d="M52.9 95.3h42.9v21.7h-42.9zM180 116.5h21.7v21.7h-21.7zM222.3 137.6h21.7v21.7h-21.7zM264.7 180h21.7v21.7h-21.7zM-52.9 264.7h64v21.7h-64zM243.5 264.7h21.7v21.7h-21.7zM116.5 285.9h64v21.7h-64z"/><path fill="#3c3c3c" d="M-52.9 95.3h106.4v21.7h-106.4zM95.3 95.3h64v21.7h-64zM201.2 116.5h21.7v21.7h-21.7zM285.9 201.2h21.7v21.7h-21.7zM285.9 222.3h21.7v21.7h-21.7zM74.1 285.9h42.9v21.7h-42.9zM180 285.9h21.7v21.7h-21.7z"/><path fill="#3e3e3e" d="M158.8 95.3h21.7v21.7h-21.7zM243.5 137.6h21.7v21.7h-21.7zM264.7 158.8h21.7v21.7h-21.7zM285.9 180h21.7v21.7h-21.7zM307 201.2h21.7v21.7h-21.7zM307 222.3h21.7v21.7h-21.7zM285.9 243.5h21.7v21.7h-21.7zM264.7 264.7h21.7v21.7h-21.7zM31.8 285.9h42.9v21.7h-42.9zM201.2 285.9h21.7v21.7h-21.7z"/><path fill="#404040" d="M-52.9 74.1h169.9v21.7h-169.9zM180 95.3h21.7v21.7h-21.7zM222.3 116.5h21.7v21.7h-21.7zM10.6 285.9h21.7v21.7h-21.7zM222.3 285.9h21.7v21.7h-21.7zM116.5 307h64v21.7h-64z"/><path fill="#424242" d="M116.5 74.1h42.9v21.7h-42.9zM201.2 95.3h21.7v21.7h-21.7zM264.7 137.6h21.7v21.7h-21.7zM285.9 158.8h21.7v21.7h-21.7zM307 180h21.7v21.7h-21.7zM328.2 201.2h21.7v21.7h-21.7zM328.2 222.3h21.7v21.7h-21.7zM307 243.5h21.7v21.7h-21.7zM285.9 264.7h21.7v21.7h-21.7zM-52.9 285.9h64v21.7h-64zM243.5 285.9h21.7v21.7h-21.7zM52.9 307h64v21.7h-64zM180 307h42.9v21.7h-42.9z"/><path fill="#444444" d="M-52.9 52.9h127.6v21.7h-127.6zM158.8 74.1h21.7v21.7h-21.7zM243.5 116.5h21.7v21.7h-21.7zM307 264.7h21.7v21.7h-21.7zM264.7 285.9h21.7v21.7h-21.7zM10.6 307h42.9v21.7h-42.9zM222.3 307h21.7v21.7h-21.7zM116.5 328.2h42.9v21.7h-42.9z"/><path fill="#464646" d="M74.1 52.9h64v21.7h-64zM180 74.1h21.7v21.7h-21.7zM222.3 95.3h21.7v21.7h-21.7zM285.9 137.6h21.7v21.7h-21.7zM328.2 180h21.7v21.7h-21.7zM328.2 243.5h21.7v21.7h-21.7zM285.9 285.9h21.7v21.7h-21.7zM-52.9 307h64v21.7h-64zM243.5 307h21.7v21.7h-21.7zM31.8 328.2h85.2v21.7h-85.2zM158.8 328.2h64v21.7h-64z"/><path fill="#484848" d="M-52.9 31.8h127.6v21.7h-127.6zM137.6 52.9h42.9v21.7h-42.9zM201.2 74.1h21.7v21.7h-21.7zM243.5 95.3h21.7v21.7h-21.7zM264.7 116.5h21.7v21.7h-21.7zM307 158.8h21.7v21.7h-21.7zM264.7 307h21.7v21.7h-21.7zM-52.9 328.2h85.2v21.7h-85.2zM222.3 328.2h21.7v21.7h-21.7zM52.9 349.4h148.7v21.7h-148.7z"/><path fill="#4a4a4a" d="M74.1 31.8h64v21.7h-64zM180 52.9h21.7v21.7h-21.7zM222.3 74.1h21.7v21.7h-21.7zM349.4 201.2h21.7v21.7h-21.7zM349.4 222.3h21.7v21.7h-21.7zM328.2 264.7h21.7v21.7h-21.7zM307 285.9h21.7v21.7h-21.7zM285.9 307h21.7v21.7h-21.7zM243.5 328.2h21.7v21.7h-21.7zM-52.9 349.4h106.4v21.7h-106.4zM201.2 349.4h42.9v21.7h-42.9zM52.9 370.6h148.7v21.7h-148.7z"/><path fill="#4c4c4c" d="M-52.9 10.6h106.4v21.7h-106.4zM137.6 31.8h21.7v21.7h-21.7zM201.2 52.9h21.7v21.7h-21.7zM264.7 95.3h21.7v21.7h-21.7zM285.9 116.5h21.7v21.7h-21.7zM307 137.6h21.7v21.7h-21.7zM328.2 158.8h21.7v21.7h-21.7zM349.4 243.5h21.7v21.7h-21.7zM264.7 328.2h21.7v21.7h-21.7zM243.5 349.4h21.7v21.7h-21.7zM-52.9 370.6h106.4v21.7h-106.4zM201.2 370.6h21.7v21.7h-21.7zM116.5 391.7h64v21.7h-64z"/><path fill="#4e4e4e" d="M52.9 10.6h42.9v21.7h-42.9zM158.8 31.8h21.7v21.7h-21.7zM243.5 74.1h21.7v21.7h-21.7zM349.4 180h21.7v21.7h-21.7zM328.2 285.9h21.7v21.7h-21.7zM307 307h21.7v21.7h-21.7zM222.3 370.6h21.7v21.7h-21.7zM52.9 391.7h64v21.7h-64zM180 391.7h21.7v21.7h-21.7zM137.6 412.9h21.7v21.7h-21.7zM137.6 434.1h21.7v21.7h-21.7zM137.6 455.3h21.7v21.7h-21.7z"/><path fill="#505050" d="M-52.9 -52.9h127.6v21.7h-127.6zM-52.9 -31.8h127.6v21.7h-127.6zM-52.9 -10.6h127.6v21.7h-127.6zM95.3 10.6h42.9v21.7h-42.9zM180 31.8h21.7v21.7h-21.7zM222.3 52.9h21.7v21.7h-21.7zM349.4 264.7h21.7v21.7h-21.7zM285.9 328.2h21.7v21.7h-21.7zM264.7 349.4h21.7v21.7h-21.7zM243.5 370.6h21.7v21.7h-21.7zM-52.9 391.7h106.4v21.7h-106.4zM201.2 391.7h21.7v21.7h-21.7zM74.1 412.9h64v21.7h-64zM158.8 412.9h42.9v21.7h-42.9zM74.1 434.1h64v21.7h-64zM158.8 434.1h42.9v21.7h-42.9zM74.1 455.3h64v21.7h-64zM158.8 455.3h42.9v21.7h-42.9z"/><path fill="#525252" d="M74.1 -52.9h42.9v21.7h-42.9zM74.1 -31.8h42.9v21.7h-42.9zM74.1 -10.6h42.9v21.7h-42.9zM137.6 10.6h42.9v21.7h-42.9zM201.2 31.8h21.7v21.7h-21.7zM243.5 52.9h21.7v21.7h-21.7zM264.7 74.1h21.7v21.7h-21.7zM285.9 95.3h21.7v21.7h-21.7zM307 116.5h21.7v21.7h-21.7zM328.2 137.6h21.7v21.7h-21.7zM370.6 201.2h21.7v21.7h-21.7zM370.6 222.3h21.7v21.7h-21.7zM328.2 307h21.7v21.7h-21.7zM307 328.2h21.7v21.7h-21.7zM285.9 349.4h21.7v21.7h-21.7zM222.3 391.7h21.7v21.7h-21.7zM10.6 412.9h64v21.7h-64zM201.2 412.9h21.7v21.7h-21.7zM10.6 434.1h64v21.7h-64zM201.2 434.1h21.7v21.7h-21.7zM10.6 455.3h64v21.7h-64zM201.2 455.3h21.7v21.7h-21.7z"/><path fill="#545454" d="M116.5 -52.9h21.7v21.7h-21.7zM116.5 -31.8h21.7v21.7h-21.7zM116.5 -10.6h21.7v21.7h-21.7zM180 10.6h21.7v21.7h-21.7zM222.3 31.8h21.7v21.7h-21.7zM349.4 158.8h21.7v21.7h-21.7zM370.6 243.5h21.7v21.7h-21.7zM349.4 285.9h21.7v21.7h-21.7zM264.7 370.6h21.7v21.7h-21.7zM243.5 391.7h21.7v21.7h-21.7zM-52.9 412.9h64v21.7h-64zM222.3 412.9h21.7v21.7h-21.7zM-52.9 434.1h64v21.7h-64zM222.3 434.1h21.7v21.7h-21.7zM-52.9 455.3h64v21.7h-64zM222.3 455.3h21.7v21.7h-21.7z"/><path fill="#565656" d="M137.6 -52.9h21.7v21.7h-21.7zM137.6 -31.8h21.7v21.7h-21.7zM137.6 -10.6h21.7v21.7h-21.7zM264.7 52.9h21.7v21.7h-21.7zM285.9 74.1h21.7v21.7h-21.7zM370.6 180h21.7v21.7h-21.7zM370.6 264.7h21.7v21.7h-21.7zM285.9 370.6h21.7v21.7h-21.7zM243.5 412.9h21.7v21.7h-21.7zM243.5 434.1h21.7v21.7h-21.7zM243.5 455.3h21.7v21.7h-21.7z"/><path fill="#585858" d="M158.8 -52.9h21.7v21.7h-21.7zM158.8 -31.8h21.7v21.7h-21.7zM158.8 -10.6h21.7v21.7h-21.7zM201.2 10.6h21.7v21.7h-21.7zM243.5 31.8h21.7v21.7h-21.7zM307 95.3h21.7v21.7h-21.7zM328.2 116.5h21.7v21.7h-21.7zM349.4 307h21.7v21.7h-21.7zM328.2 328.2h21.7v21.7h-21.7zM307 349.4h21.7v21.7h-21.7zM264.7 391.7h21.7v21.7h-21.7z"/><path fill="#5a5a5a" d="M180 -52.9h21.7v21.7h-21.7zM180 -31.8h21.7v21.7h-21.7zM180 -10.6h21.7v21.7h-21.7zM222.3 10.6h21.7v21.7h-21.7zM349.4 137.6h21.7v21.7h-21.7zM370.6 285.9h21.7v21.7h-21.7zM264.7 412.9h21.7v21.7h-21.7zM264.7 434.1h21.7v21.7h-21.7zM264.7 455.3h21.7v21.7h-21.7z"/><path fill="#5c5c5c" d="M201.2 -52.9h21.7v21.7h-21.7zM201.2 -31.8h21.7v21.7h-21.7zM201.2 -10.6h21.7v21.7h-21.7zM243.5 10.6h21.7v21.7h-21.7zM264.7 31.8h21.7v21.7h-21.7zM285.9 52.9h21.7v21.7h-21.7zM307 74.1h21.7v21.7h-21.7zM370.6 158.8h21.7v21.7h-21.7zM391.7 201.2h21.7v21.7h-21.7zM391.7 222.3h21.7v21.7h-21.7zM328.2 349.4h21.7v21.7h-21.7zM307 370.6h21.7v21.7h-21.7zM285.9 391.7h21.7v21.7h-21.7z"/><path fill="#5e5e5e" d="M222.3 -52.9h21.7v21.7h-21.7zM222.3 -31.8h21.7v21.7h-21.7zM222.3 -10.6h21.7v21.7h-21.7zM328.2 95.3h21.7v21.7h-21.7zM391.7 243.5h21.7v21.7h-21.7zM370.6 307h21.7v21.7h-21.7zM349.4 328.2h21.7v21.7h-21.7zM285.9 412.9h21.7v21.7h-21.7zM285.9 434.1h21.7v21.7h-21.7zM285.9 455.3h21.7v21.7h-21.7z"/><path fill="#606060" d="M243.5 -52.9h21.7v21.7h-21.7zM243.5 -31.8h21.7v21.7h-21.7zM243.5 -10.6h21.7v21.7h-21.7zM264.7 10.6h21.7v21.7h-21.7zM285.9 31.8h21.7v21.7h-21.7zM307 52.9h21.7v21.7h-21.7zM349.4 116.5h21.7v21.7h-21.7zM391.7 180h21.7v21.7h-21.7zM391.7 264.7h21.7v21.7h-21.7zM328.2 370.6h21.7v21.7h-21.7zM307 391.7h21.7v21.7h-21.7z"/><path fill="#626262" d="M264.7 -52.9h21.7v21.7h-21.7zM264.7 -31.8h21.7v21.7h-21.7zM264.7 -10.6h21.7v21.7h-21.7zM328.2 74.1h21.7v21.7h-21.7zM370.6 137.6h21.7v21.7h-21.7zM391.7 285.9h21.7v21.7h-21.7zM349.4 349.4h21.7v21.7h-21.7z"/><path fill="#646464" d="M285.9 10.6h21.7v21.7h-21.7zM307 31.8h21.7v21.7h-21.7zM349.4 95.3h21.7v21.7h-21.7zM412.9 201.2h64v21.7h-64zM412.9 222.3h64v21.7h-64zM370.6 328.2h21.7v21.7h-21.7zM307 412.9h21.7v21.7h-21.7zM307 434.1h21.7v21.7h-21.7zM307 455.3h21.7v21.7h-21.7z"/><path fill="#666666" d="M285.9 -52.9h21.7v21.7h-21.7zM285.9 -31.8h21.7v21.7h-21.7zM285.9 -10.6h21.7v21.7h-21.7zM328.2 52.9h21.7v21.7h-21.7zM391.7 158.8h21.7v21.7h-21.7zM412.9 243.5h64v21.7h-64zM391.7 307h21.7v21.7h-21.7zM349.4 370.6h21.7v21.7h-21.7zM328.2 391.7h21.7v21.7h-21.7z"/><path fill="#686868" d="M307 10.6h21.7v21.7h-21.7zM370.6 116.5h21.7v21.7h-21.7zM412.9 180h64v21.7h-64zM412.9 264.7h64v21.7h-64zM370.6 349.4h21.7v21.7h-21.7zM328.2 412.9h21.7v21.7h-21.7zM328.2 434.1h21.7v21.7h-21.7zM328.2 455.3h21.7v21.7h-21.7z"/><path fill="#6a6a6a" d="M307 -52.9h21.7v21.7h-21.7zM307 -31.8h21.7v21.7h-21.7zM307 -10.6h21.7v21.7h-21.7zM328.2 31.8h21.7v21.7h-21.7zM349.4 74.1h21.7v21.7h-21.7zM391.7 137.6h21.7v21.7h-21.7zM412.9 285.9h64v21.7h-64z"/><path fill="#6c6c6c" d="M328.2 10.6h21.7v21.7h-21.7zM349.4 52.9h21.7v21.7h-21.7zM370.6 95.3h21.7v21.7h-21.7zM391.7 328.2h21.7v21.7h-21.7zM349.4 391.7h21.7v21.7h-21.7z"/><path fill="#6e6e6e" d="M328.2 -52.9h21.7v21.7h-21.7zM328.2 -31.8h21.7v21.7h-21.7zM328.2 -10.6h21.7v21.7h-21.7zM349.4 31.8h21.7v21.7h-21.7zM412.9 158.8h64v21.7h-64zM412.9 307h64v21.7h-64zM370.6 370.6h21.7v21.7h-21.7zM349.4 412.9h21.7v21.7h-21.7zM349.4 434.1h21.7v21.7h-21.7zM349.4 455.3h21.7v21.7h-21.7z"/><path fill="#707070" d="M349.4 10.6h21.7v21.7h-21.7zM370.6 74.1h21.7v21.7h-21.7zM391.7 116.5h21.7v21.7h-21.7zM391.7 349.4h21.7v21.7h-21.7z"/><path fill="#727272" d="M349.4 -52.9h21.7v21.7h-21.7zM349.4 -31.8h21.7v21.7h-21.7zM349.4 -10.6h21.7v21.7h-21.7zM370.6 52.9h21.7v21.7h-21.7zM391.7 95.3h21.7v21.7h-21.7zM412.9 137.6h64v21.7h-64zM412.9 328.2h64v21.7h-64zM370.6 391.7h21.7v21.7h-21.7z"/><path fill="#747474" d="M370.6 31.8h21.7v21.7h-21.7zM391.7 370.6h21.7v21.7h-21.7zM370.6 412.9h21.7v21.7h-21.7zM370.6 434.1h21.7v21.7h-21.7zM370.6 455.3h21.7v21.7h-21.7z"/><path fill="#767676" d="M370.6 -52.9h21.7v21.7h-21.7zM370.6 -31.8h21.7v21.7h-21.7zM370.6 -10.6h21.7v21.7h-21.7zM370.6 10.6h21.7v21.7h-21.7zM391.7 52.9h21.7v21.7h-21.7zM391.7 74.1h21.7v21.7h-21.7zM412.9 116.5h64v21.7h-64zM412.9 349.4h64v21.7h-64zM391.7 391.7h21.7v21.7h-21.7z"/><path fill="#787878" d="M391.7 31.8h21.7v21.7h-21.7zM412.9 95.3h64v21.7h-64zM412.9 370.6h64v21.7h-64zM391.7 412.9h21.7v21.7h-21.7zM391.7 434.1h21.7v21.7h-21.7zM391.7 455.3h21.7v21.7h-21.7z"/><path fill="#7a7a7a" d="M391.7 -52.9h21.7v21.7h-21.7zM391.7 -31.8h21.7v21.7h-21.7zM391.7 -10.6h21.7v21.7h-21.7zM391.7 10.6h21.7v21.7h-21.7zM412.9 52.9h64v21.7h-64zM412.9 74.1h64v21.7h-64zM412.9 391.7h64v21.7h-64z"/><path fill="#7c7c7c" d="M412.9 -52.9h64v21.7h-64zM412.9 -31.8h64v21.7h-64zM412.9 -10.6h64v21.7h-64zM412.9 10.6h64v21.7h-64zM412.9 31.8h64v21.7h-64zM412.9 412.9h64v21.7h-64zM412.9 434.1h64v21.7h-64zM412.9 455.3h64v21.7h-64z"/></g></g></g><path d="M94.6 719.9V715.2M94.6 1147.0V1151.9M93.1 721.4H88.3M519.6 721.4H525.0M136.9 719.9V715.2M136.9 1147.0V1151.9M93.1 763.8H88.3M519.6 763.8H525.0M179.3 719.9V715.2M179.3 1147.0V1151.9M93.1 806.2H88.3M519.6 806.2H525.0M221.7 719.9V715.2M221.7 1147.0V1151.9M93.1 848.6H88.3M519.6 848.6H525.0M264.0 719.9V715.2M264.0 1147.0V1151.9M93.1 891.0H88.3M519.6 891.0H525.0M306.4 719.9V715.2M306.4 1147.0V1151.9M93.1 933.5H88.3M519.6 933.5H525.0M348.7 719.9V715.2M348.7 1147.0V1151.9M93.1 975.9H88.3M519.6 975.9H525.0M391.0 719.9V715.2M391.0 1147.0V1151.9M93.1 1018.3H88.3M519.6 1018.3H525.0M433.4 719.9V715.2M433.4 1147.0V1151.9M93.1 1060.7H88.3M519.6 1060.7H525.0M475.8 719.9V715.2M475.8 1147.0V1151.9M93.1 1103.1H88.3M519.6 1103.1H525.0M518.1 719.9V715.2M518.1 1147.0V1151.9M93.1 1145.5H88.3M519.6 1145.5H525.0" stroke="#000" stroke-width="3" fill="none"/><rect x="94.6" y="721.4" width="423.5" height="424.1" fill="none" stroke="#000" stroke-width="3.2"/><text x="94.8" y="1183.0" font-size="30.5" text-anchor="middle" >-5</text><text x="88.0" y="735.2" font-size="30.5" text-anchor="end" >5</text><text x="137.1" y="1183.0" font-size="30.5" text-anchor="middle" >-4</text><text x="88.0" y="777.6" font-size="30.5" text-anchor="end" >4</text><text x="179.5" y="1183.0" font-size="30.5" text-anchor="middle" >-3</text><text x="88.0" y="820.0" font-size="30.5" text-anchor="end" >3</text><text x="221.8" y="1183.0" font-size="30.5" text-anchor="middle" >-2</text><text x="88.0" y="862.4" font-size="30.5" text-anchor="end" >2</text><text x="264.2" y="1183.0" font-size="30.5" text-anchor="middle" >-1</text><text x="88.0" y="904.8" font-size="30.5" text-anchor="end" >1</text><text x="306.2" y="1183.0" font-size="30.5" text-anchor="middle" >0</text><text x="88.0" y="947.2" font-size="30.5" text-anchor="end" >0</text><text x="348.5" y="1183.0" font-size="30.5" text-anchor="middle" >1</text><text x="88.0" y="989.7" font-size="30.5" text-anchor="end" >-1</text><text x="390.8" y="1183.0" font-size="30.5" text-anchor="middle" >2</text><text x="88.0" y="1032.1" font-size="30.5" text-anchor="end" >-2</text><text x="433.2" y="1183.0" font-size="30.5" text-anchor="middle" >3</text><text x="88.0" y="1074.5" font-size="30.5" text-anchor="end" >-3</text><text x="475.6" y="1183.0" font-size="30.5" text-anchor="middle" >4</text><text x="88.0" y="1116.9" font-size="30.5" text-anchor="end" >-4</text><text x="517.9" y="1183.0" font-size="30.5" text-anchor="middle" >5</text><text x="88.0" y="1159.3" font-size="30.5" text-anchor="end" >-5</text><rect x="543.2" y="722.2" width="26.8" height="425.5" fill="url(#cm1)"/><text x="577.6" y="738.6" font-size="30.5" text-anchor="start" >0</text><text x="577.6" y="799.1" font-size="30.5" text-anchor="start" >-1</text><text x="577.6" y="859.7" font-size="30.5" text-anchor="start" >-2</text><text x="577.6" y="920.2" font-size="30.5" text-anchor="start" >-3</text><text x="577.6" y="980.8" font-size="30.5" text-anchor="start" >-4</text><text x="577.6" y="1041.3" font-size="30.5" text-anchor="start" >-5</text><text x="577.6" y="1101.9" font-size="30.5" text-anchor="start" >-6</text><text x="577.6" y="1162.5" font-size="30.5" text-anchor="start" >-7</text><text x="-1.0" y="699.4" font-size="52" text-anchor="start" >(b)</text><text x="309.0" y="1222.4" font-size="42.5" text-anchor="middle" ><tspan font-style="italic">x</tspan>-axis (mm)</text><text transform="translate(46.8 933.2) rotate(-90)" font-size="41.4" text-anchor="middle" ><tspan font-style="italic">y</tspan>-axis (mm)</text><text transform="translate(666.7 934.0) rotate(-90)" font-size="42.5" text-anchor="middle" >Normalized intensity</text><text transform="translate(715.7 932.5) rotate(-90)" font-size="42.5" text-anchor="middle" >of electric field (dB)</text>
<g transform="translate(863.5 722.2)"><g clip-path="url(#cpc)"><g filter="url(#fC)"><rect x="-40" y="-40" width="504" height="504" fill="#c8c8c8"/><g fill="#959595"><ellipse cx="169" cy="43" rx="20" ry="17" opacity="0.81"/><ellipse cx="126" cy="19" rx="11" ry="14" opacity="0.42"/><ellipse cx="22" cy="42" rx="12" ry="12" opacity="0.42"/><ellipse cx="22" cy="85" rx="14" ry="14" opacity="0.47"/><ellipse cx="117" cy="93" rx="32" ry="24" opacity="0.51"/><ellipse cx="210" cy="101" rx="14" ry="14" opacity="0.42"/><ellipse cx="271" cy="52" rx="35" ry="17" opacity="0.42"/><ellipse cx="320" cy="62" rx="28" ry="14" opacity="0.53"/><ellipse cx="378" cy="78" rx="15" ry="15" opacity="0.38"/><ellipse cx="274" cy="116" rx="20" ry="21" opacity="0.31"/><ellipse cx="340" cy="125" rx="17" ry="14" opacity="0.42"/><ellipse cx="190" cy="151" rx="17" ry="15" opacity="0.55"/><ellipse cx="233" cy="151" rx="17" ry="12" opacity="0.42"/><ellipse cx="271" cy="165" rx="17" ry="10" opacity="0.26"/><ellipse cx="19" cy="180" rx="15" ry="28" opacity="0.55"/><ellipse cx="138" cy="197" rx="37" ry="20" opacity="0.59"/><ellipse cx="83" cy="185" rx="33" ry="13" opacity="0.24"/><ellipse cx="42" cy="229" rx="27" ry="15" opacity="0.42"/><ellipse cx="233" cy="226" rx="17" ry="17" opacity="0.31"/><ellipse cx="297" cy="190" rx="10" ry="8" opacity="0.26"/><ellipse cx="381" cy="169" rx="14" ry="10" opacity="0.31"/><ellipse cx="169" cy="254" rx="14" ry="10" opacity="0.34"/><ellipse cx="106" cy="281" rx="37" ry="21" opacity="0.42"/><ellipse cx="22" cy="275" rx="10" ry="10" opacity="0.26"/><ellipse cx="381" cy="264" rx="13" ry="17" opacity="0.24"/><ellipse cx="135" cy="339" rx="23" ry="24" opacity="0.42"/><ellipse cx="25" cy="365" rx="24" ry="21" opacity="0.42"/><ellipse cx="62" cy="380" rx="20" ry="10" opacity="0.26"/><ellipse cx="117" cy="400" rx="17" ry="7" opacity="0.24"/><ellipse cx="401" cy="403" rx="10" ry="10" opacity="0.24"/><ellipse cx="339" cy="380" rx="7" ry="7" opacity="0.21"/><ellipse cx="68" cy="133" rx="67" ry="13" opacity="0.14"/><ellipse cx="83" cy="46" rx="87" ry="20" opacity="0.12"/><ellipse cx="285" cy="87" rx="110" ry="20" opacity="0.12"/><ellipse cx="54" cy="322" rx="60" ry="20" opacity="0.10"/><ellipse cx="198" cy="67" rx="40" ry="13" opacity="0.17"/><ellipse cx="384" cy="212" rx="20" ry="7" opacity="0.13"/></g><ellipse cx="117" cy="116" rx="162" ry="151" opacity="0.50" fill="url(#cg)"/><ellipse cx="285" cy="81" rx="162" ry="87" opacity="0.45" fill="url(#cg)"/><ellipse cx="83" cy="327" rx="122" ry="99" opacity="0.40" fill="url(#cg)"/><ellipse cx="198" cy="183" rx="122" ry="81" opacity="0.34" fill="url(#cg)"/><ellipse cx="184" cy="197" rx="319" ry="290" opacity="0.22" fill="url(#cg)"/><ellipse cx="367" cy="255" rx="75" ry="87" opacity="0.16" fill="url(#cg)"/></g></g></g><path d="M863.5 720.7V716.0M863.5 1147.7V1152.6M862.0 722.2H857.2M1288.6 722.2H1294.0M905.9 720.7V716.0M905.9 1147.7V1152.6M862.0 764.6H857.2M1288.6 764.6H1294.0M948.2 720.7V716.0M948.2 1147.7V1152.6M862.0 807.0H857.2M1288.6 807.0H1294.0M990.6 720.7V716.0M990.6 1147.7V1152.6M862.0 849.4H857.2M1288.6 849.4H1294.0M1032.9 720.7V716.0M1032.9 1147.7V1152.6M862.0 891.8H857.2M1288.6 891.8H1294.0M1075.3 720.7V716.0M1075.3 1147.7V1152.6M862.0 934.2H857.2M1288.6 934.2H1294.0M1117.7 720.7V716.0M1117.7 1147.7V1152.6M862.0 976.6H857.2M1288.6 976.6H1294.0M1160.0 720.7V716.0M1160.0 1147.7V1152.6M862.0 1019.0H857.2M1288.6 1019.0H1294.0M1202.4 720.7V716.0M1202.4 1147.7V1152.6M862.0 1061.4H857.2M1288.6 1061.4H1294.0M1244.7 720.7V716.0M1244.7 1147.7V1152.6M862.0 1103.8H857.2M1288.6 1103.8H1294.0M1287.1 720.7V716.0M1287.1 1147.7V1152.6M862.0 1146.2H857.2M1288.6 1146.2H1294.0" stroke="#000" stroke-width="3" fill="none"/><rect x="863.5" y="722.2" width="423.6" height="424.0" fill="none" stroke="#000" stroke-width="3.2"/><text x="863.7" y="1183.7" font-size="30.5" text-anchor="middle" >-5</text><text x="856.9" y="736.0" font-size="30.5" text-anchor="end" >5</text><text x="906.1" y="1183.7" font-size="30.5" text-anchor="middle" >-4</text><text x="856.9" y="778.4" font-size="30.5" text-anchor="end" >4</text><text x="948.4" y="1183.7" font-size="30.5" text-anchor="middle" >-3</text><text x="856.9" y="820.8" font-size="30.5" text-anchor="end" >3</text><text x="990.8" y="1183.7" font-size="30.5" text-anchor="middle" >-2</text><text x="856.9" y="863.2" font-size="30.5" text-anchor="end" >2</text><text x="1033.1" y="1183.7" font-size="30.5" text-anchor="middle" >-1</text><text x="856.9" y="905.6" font-size="30.5" text-anchor="end" >1</text><text x="1075.1" y="1183.7" font-size="30.5" text-anchor="middle" >0</text><text x="856.9" y="948.0" font-size="30.5" text-anchor="end" >0</text><text x="1117.5" y="1183.7" font-size="30.5" text-anchor="middle" >1</text><text x="856.9" y="990.4" font-size="30.5" text-anchor="end" >-1</text><text x="1159.8" y="1183.7" font-size="30.5" text-anchor="middle" >2</text><text x="856.9" y="1032.8" font-size="30.5" text-anchor="end" >-2</text><text x="1202.2" y="1183.7" font-size="30.5" text-anchor="middle" >3</text><text x="856.9" y="1075.2" font-size="30.5" text-anchor="end" >-3</text><text x="1244.5" y="1183.7" font-size="30.5" text-anchor="middle" >4</text><text x="856.9" y="1117.6" font-size="30.5" text-anchor="end" >-4</text><text x="1286.9" y="1183.7" font-size="30.5" text-anchor="middle" >5</text><text x="856.9" y="1160.0" font-size="30.5" text-anchor="end" >-5</text><rect x="1312.1" y="723.0" width="26.8" height="425.5" fill="url(#cm1)"/><text x="1346.5" y="739.4" font-size="30.5" text-anchor="start" >0</text><text x="1346.5" y="799.9" font-size="30.5" text-anchor="start" >-1</text><text x="1346.5" y="860.5" font-size="30.5" text-anchor="start" >-2</text><text x="1346.5" y="921.0" font-size="30.5" text-anchor="start" >-3</text><text x="1346.5" y="981.6" font-size="30.5" text-anchor="start" >-4</text><text x="1346.5" y="1042.2" font-size="30.5" text-anchor="start" >-5</text><text x="1346.5" y="1102.7" font-size="30.5" text-anchor="start" >-6</text><text x="1346.5" y="1163.2" font-size="30.5" text-anchor="start" >-7</text><text x="767.9" y="700.2" font-size="52" text-anchor="start" >(c)</text><text x="1077.9" y="1223.2" font-size="42.5" text-anchor="middle" ><tspan font-style="italic">x</tspan>-axis (mm)</text><text transform="translate(815.7 934.0) rotate(-90)" font-size="41.4" text-anchor="middle" ><tspan font-style="italic">y</tspan>-axis (mm)</text><text transform="translate(1435.6 934.8) rotate(-90)" font-size="42.5" text-anchor="middle" >Normalized intensity</text><text transform="translate(1484.6 933.3) rotate(-90)" font-size="42.5" text-anchor="middle" >of electric field (dB)</text>
<g transform="translate(94.6 1330.6)"><g clip-path="url(#cpd)"><g filter="url(#fB)"><path fill="#222222" d="M137.8 159h21.7v21.7h-21.7zM137.8 180.2h42.9v21.7h-42.9z"/><path fill="#242424" d="M116.6 159h21.7v21.7h-21.7zM159 159h21.7v21.7h-21.7zM116.6 180.2h21.7v21.7h-21.7zM180.2 180.2h21.7v21.7h-21.7zM137.8 201.4h42.9v21.7h-42.9z"/><path fill="#262626" d="M95.4 159h21.7v21.7h-21.7zM180.2 201.4h21.7v21.7h-21.7z"/><path fill="#282828" d="M137.8 137.8h21.7v21.7h-21.7zM74.2 159h21.7v21.7h-21.7zM180.2 159h21.7v21.7h-21.7zM95.4 180.2h21.7v21.7h-21.7zM116.6 201.4h21.7v21.7h-21.7z"/><path fill="#2a2a2a" d="M116.6 137.8h21.7v21.7h-21.7zM159 137.8h21.7v21.7h-21.7z"/><path fill="#2c2c2c" d="M95.4 137.8h21.7v21.7h-21.7zM74.2 180.2h21.7v21.7h-21.7zM201.4 180.2h21.7v21.7h-21.7z"/><path fill="#2e2e2e" d="M53 159h21.7v21.7h-21.7zM201.4 159h21.7v21.7h-21.7zM95.4 201.4h21.7v21.7h-21.7zM201.4 201.4h21.7v21.7h-21.7z"/><path fill="#303030" d="M74.2 137.8h21.7v21.7h-21.7zM180.2 137.8h21.7v21.7h-21.7zM53 180.2h21.7v21.7h-21.7zM137.8 222.5h42.9v21.7h-42.9z"/><path fill="#323232" d="M137.8 116.6h21.7v21.7h-21.7zM180.2 222.5h21.7v21.7h-21.7z"/><path fill="#343434" d="M116.6 116.6h21.7v21.7h-21.7zM159 116.6h21.7v21.7h-21.7zM53 137.8h21.7v21.7h-21.7zM31.8 159h21.7v21.7h-21.7zM74.2 201.4h21.7v21.7h-21.7zM116.6 222.5h21.7v21.7h-21.7z"/><path fill="#363636" d="M95.4 116.6h21.7v21.7h-21.7zM31.8 180.2h21.7v21.7h-21.7z"/><path fill="#383838" d="M201.4 137.8h21.7v21.7h-21.7zM10.6 159h21.7v21.7h-21.7zM53 201.4h21.7v21.7h-21.7zM201.4 222.5h21.7v21.7h-21.7z"/><path fill="#3a3a3a" d="M74.2 116.6h21.7v21.7h-21.7zM180.2 116.6h21.7v21.7h-21.7zM31.8 137.8h21.7v21.7h-21.7zM222.5 159h21.7v21.7h-21.7zM222.5 180.2h21.7v21.7h-21.7zM95.4 222.5h21.7v21.7h-21.7z"/><path fill="#3c3c3c" d="M137.8 95.4h21.7v21.7h-21.7zM10.6 180.2h21.7v21.7h-21.7zM222.5 201.4h21.7v21.7h-21.7z"/><path fill="#3e3e3e" d="M116.6 95.4h21.7v21.7h-21.7zM159 95.4h21.7v21.7h-21.7zM53 116.6h21.7v21.7h-21.7zM10.6 137.8h21.7v21.7h-21.7zM-53 159h64.1v21.7h-64.1zM31.8 201.4h21.7v21.7h-21.7zM74.2 222.5h21.7v21.7h-21.7zM137.8 243.7h42.9v21.7h-42.9z"/><path fill="#404040" d="M95.4 95.4h21.7v21.7h-21.7zM-53 180.2h64.1v21.7h-64.1zM180.2 243.7h21.7v21.7h-21.7z"/><path fill="#424242" d="M74.2 95.4h21.7v21.7h-21.7zM180.2 95.4h21.7v21.7h-21.7zM31.8 116.6h21.7v21.7h-21.7zM201.4 116.6h21.7v21.7h-21.7zM-53 137.8h64.1v21.7h-64.1zM222.5 137.8h21.7v21.7h-21.7zM10.6 201.4h21.7v21.7h-21.7zM53 222.5h21.7v21.7h-21.7zM222.5 222.5h21.7v21.7h-21.7zM116.6 243.7h21.7v21.7h-21.7z"/><path fill="#444444" d="M-53 201.4h64.1v21.7h-64.1zM201.4 243.7h21.7v21.7h-21.7z"/><path fill="#464646" d="M53 95.4h21.7v21.7h-21.7zM10.6 116.6h21.7v21.7h-21.7zM31.8 222.5h21.7v21.7h-21.7zM95.4 243.7h21.7v21.7h-21.7z"/><path fill="#484848" d="M116.6 74.2h64.1v21.7h-64.1zM-53 116.6h64.1v21.7h-64.1zM243.7 159h21.7v21.7h-21.7zM243.7 180.2h21.7v21.7h-21.7zM159 264.9h42.9v21.7h-42.9z"/><path fill="#4a4a4a" d="M95.4 74.2h21.7v21.7h-21.7zM31.8 95.4h21.7v21.7h-21.7zM201.4 95.4h21.7v21.7h-21.7zM222.5 116.6h21.7v21.7h-21.7zM243.7 201.4h21.7v21.7h-21.7zM10.6 222.5h21.7v21.7h-21.7zM74.2 243.7h21.7v21.7h-21.7zM222.5 243.7h21.7v21.7h-21.7zM137.8 264.9h21.7v21.7h-21.7z"/><path fill="#4c4c4c" d="M74.2 74.2h21.7v21.7h-21.7zM180.2 74.2h21.7v21.7h-21.7zM-53 222.5h64.1v21.7h-64.1zM243.7 222.5h21.7v21.7h-21.7zM116.6 264.9h21.7v21.7h-21.7zM201.4 264.9h21.7v21.7h-21.7z"/><path fill="#4e4e4e" d="M10.6 95.4h21.7v21.7h-21.7zM243.7 137.8h21.7v21.7h-21.7zM53 243.7h21.7v21.7h-21.7zM222.5 264.9h21.7v21.7h-21.7zM180.2 286.1h21.7v21.7h-21.7z"/><path fill="#505050" d="M53 74.2h21.7v21.7h-21.7zM201.4 74.2h21.7v21.7h-21.7zM-53 95.4h64.1v21.7h-64.1zM222.5 95.4h21.7v21.7h-21.7zM31.8 243.7h21.7v21.7h-21.7zM243.7 243.7h21.7v21.7h-21.7zM95.4 264.9h21.7v21.7h-21.7zM159 286.1h21.7v21.7h-21.7zM201.4 286.1h21.7v21.7h-21.7z"/><path fill="#525252" d="M137.8 53h42.9v21.7h-42.9zM264.9 180.2h21.7v21.7h-21.7zM10.6 243.7h21.7v21.7h-21.7zM243.7 264.9h21.7v21.7h-21.7zM137.8 286.1h21.7v21.7h-21.7zM222.5 286.1h21.7v21.7h-21.7z"/><path fill="#545454" d="M116.6 53h21.7v21.7h-21.7zM180.2 53h21.7v21.7h-21.7zM31.8 74.2h21.7v21.7h-21.7zM243.7 116.6h21.7v21.7h-21.7zM264.9 159h21.7v21.7h-21.7zM264.9 201.4h21.7v21.7h-21.7zM264.9 222.5h21.7v21.7h-21.7zM-53 243.7h64.1v21.7h-64.1zM74.2 264.9h21.7v21.7h-21.7zM180.2 307.3h42.9v21.7h-42.9z"/><path fill="#565656" d="M95.4 53h21.7v21.7h-21.7zM10.6 74.2h21.7v21.7h-21.7zM222.5 74.2h21.7v21.7h-21.7zM264.9 243.7h21.7v21.7h-21.7zM53 264.9h21.7v21.7h-21.7zM116.6 286.1h21.7v21.7h-21.7zM243.7 286.1h21.7v21.7h-21.7zM159 307.3h21.7v21.7h-21.7zM222.5 307.3h21.7v21.7h-21.7z"/><path fill="#585858" d="M74.2 53h21.7v21.7h-21.7zM201.4 53h21.7v21.7h-21.7zM-53 74.2h64.1v21.7h-64.1zM243.7 95.4h21.7v21.7h-21.7zM264.9 137.8h21.7v21.7h-21.7zM31.8 264.9h21.7v21.7h-21.7zM264.9 264.9h21.7v21.7h-21.7zM95.4 286.1h21.7v21.7h-21.7zM201.4 328.5h21.7v21.7h-21.7z"/><path fill="#5a5a5a" d="M10.6 264.9h21.7v21.7h-21.7zM137.8 307.3h21.7v21.7h-21.7zM243.7 307.3h21.7v21.7h-21.7zM180.2 328.5h21.7v21.7h-21.7zM222.5 328.5h21.7v21.7h-21.7z"/><path fill="#5c5c5c" d="M137.8 31.8h42.9v21.7h-42.9zM53 53h21.7v21.7h-21.7zM286.1 180.2h21.7v21.7h-21.7zM286.1 201.4h21.7v21.7h-21.7zM286.1 222.5h21.7v21.7h-21.7zM-53 264.9h64.1v21.7h-64.1zM74.2 286.1h21.7v21.7h-21.7zM264.9 286.1h21.7v21.7h-21.7zM159 328.5h21.7v21.7h-21.7zM201.4 349.7h21.7v21.7h-21.7z"/><path fill="#5e5e5e" d="M116.6 31.8h21.7v21.7h-21.7zM180.2 31.8h21.7v21.7h-21.7zM31.8 53h21.7v21.7h-21.7zM222.5 53h21.7v21.7h-21.7zM243.7 74.2h21.7v21.7h-21.7zM264.9 116.6h21.7v21.7h-21.7zM286.1 159h21.7v21.7h-21.7zM286.1 243.7h21.7v21.7h-21.7zM53 286.1h21.7v21.7h-21.7zM116.6 307.3h21.7v21.7h-21.7zM243.7 328.5h21.7v21.7h-21.7zM180.2 349.7h21.7v21.7h-21.7zM222.5 349.7h21.7v21.7h-21.7zM201.4 370.9h21.7v21.7h-21.7z"/><path fill="#606060" d="M95.4 31.8h21.7v21.7h-21.7zM201.4 31.8h21.7v21.7h-21.7zM286.1 264.9h21.7v21.7h-21.7zM264.9 307.3h21.7v21.7h-21.7zM137.8 328.5h21.7v21.7h-21.7zM159 349.7h21.7v21.7h-21.7zM180.2 370.9h21.7v21.7h-21.7zM222.5 370.9h21.7v21.7h-21.7zM201.4 392.1h21.7v21.7h-21.7z"/><path fill="#626262" d="M-53 53h85.3v21.7h-85.3zM264.9 95.4h21.7v21.7h-21.7zM286.1 137.8h21.7v21.7h-21.7zM10.6 286.1h42.9v21.7h-42.9zM95.4 307.3h21.7v21.7h-21.7zM243.7 349.7h21.7v21.7h-21.7zM180.2 392.1h21.7v21.7h-21.7zM222.5 392.1h21.7v21.7h-21.7zM201.4 413.3h21.7v21.7h-21.7zM201.4 434.5h21.7v21.7h-21.7zM201.4 455.7h21.7v21.7h-21.7z"/><path fill="#646464" d="M137.8 10.6h64.1v21.7h-64.1zM74.2 31.8h21.7v21.7h-21.7zM222.5 31.8h21.7v21.7h-21.7zM243.7 53h21.7v21.7h-21.7zM-53 286.1h64.1v21.7h-64.1zM286.1 286.1h21.7v21.7h-21.7zM116.6 328.5h21.7v21.7h-21.7zM264.9 328.5h21.7v21.7h-21.7zM159 370.9h21.7v21.7h-21.7zM243.7 370.9h21.7v21.7h-21.7zM180.2 413.3h21.7v21.7h-21.7zM222.5 413.3h21.7v21.7h-21.7zM180.2 434.5h21.7v21.7h-21.7zM222.5 434.5h21.7v21.7h-21.7zM180.2 455.7h21.7v21.7h-21.7zM222.5 455.7h21.7v21.7h-21.7z"/><path fill="#666666" d="M116.6 10.6h21.7v21.7h-21.7zM201.4 10.6h21.7v21.7h-21.7zM53 31.8h21.7v21.7h-21.7zM264.9 74.2h21.7v21.7h-21.7zM307.3 180.2h21.7v21.7h-21.7zM307.3 201.4h21.7v21.7h-21.7zM307.3 222.5h21.7v21.7h-21.7zM307.3 243.7h21.7v21.7h-21.7zM74.2 307.3h21.7v21.7h-21.7zM137.8 349.7h21.7v21.7h-21.7z"/><path fill="#686868" d="M159 -53h42.9v21.7h-42.9zM159 -31.8h42.9v21.7h-42.9zM159 -10.6h42.9v21.7h-42.9zM95.4 10.6h21.7v21.7h-21.7zM31.8 31.8h21.7v21.7h-21.7zM286.1 116.6h21.7v21.7h-21.7zM307.3 159h21.7v21.7h-21.7zM307.3 264.9h21.7v21.7h-21.7zM53 307.3h21.7v21.7h-21.7zM286.1 307.3h21.7v21.7h-21.7zM264.9 349.7h21.7v21.7h-21.7zM159 392.1h21.7v21.7h-21.7zM243.7 392.1h21.7v21.7h-21.7zM159 413.3h21.7v21.7h-21.7zM159 434.5h21.7v21.7h-21.7zM159 455.7h21.7v21.7h-21.7z"/><path fill="#6a6a6a" d="M116.6 -53h42.9v21.7h-42.9zM201.4 -53h21.7v21.7h-21.7zM116.6 -31.8h42.9v21.7h-42.9zM201.4 -31.8h21.7v21.7h-21.7zM116.6 -10.6h42.9v21.7h-42.9zM201.4 -10.6h21.7v21.7h-21.7zM74.2 10.6h21.7v21.7h-21.7zM222.5 10.6h21.7v21.7h-21.7zM10.6 31.8h21.7v21.7h-21.7zM243.7 31.8h21.7v21.7h-21.7zM31.8 307.3h21.7v21.7h-21.7zM95.4 328.5h21.7v21.7h-21.7zM137.8 370.9h21.7v21.7h-21.7zM243.7 413.3h21.7v21.7h-21.7zM243.7 434.5h21.7v21.7h-21.7zM243.7 455.7h21.7v21.7h-21.7z"/><path fill="#6c6c6c" d="M95.4 -53h21.7v21.7h-21.7zM95.4 -31.8h21.7v21.7h-21.7zM95.4 -10.6h21.7v21.7h-21.7zM53 10.6h21.7v21.7h-21.7zM-53 31.8h64.1v21.7h-64.1zM264.9 53h21.7v21.7h-21.7zM286.1 95.4h21.7v21.7h-21.7zM307.3 137.8h21.7v21.7h-21.7zM307.3 286.1h21.7v21.7h-21.7zM-53 307.3h85.3v21.7h-85.3zM286.1 328.5h21.7v21.7h-21.7zM116.6 349.7h21.7v21.7h-21.7zM264.9 370.9h21.7v21.7h-21.7z"/><path fill="#6e6e6e" d="M74.2 -53h21.7v21.7h-21.7zM222.5 -53h21.7v21.7h-21.7zM74.2 -31.8h21.7v21.7h-21.7zM222.5 -31.8h21.7v21.7h-21.7zM74.2 -10.6h21.7v21.7h-21.7zM222.5 -10.6h21.7v21.7h-21.7zM31.8 10.6h21.7v21.7h-21.7zM243.7 10.6h21.7v21.7h-21.7zM74.2 328.5h21.7v21.7h-21.7zM137.8 392.1h21.7v21.7h-21.7zM264.9 392.1h21.7v21.7h-21.7zM137.8 413.3h21.7v21.7h-21.7zM137.8 434.5h21.7v21.7h-21.7zM137.8 455.7h21.7v21.7h-21.7z"/><path fill="#707070" d="M53 -53h21.7v21.7h-21.7zM53 -31.8h21.7v21.7h-21.7zM53 -10.6h21.7v21.7h-21.7zM10.6 10.6h21.7v21.7h-21.7zM264.9 31.8h21.7v21.7h-21.7zM286.1 74.2h21.7v21.7h-21.7zM307.3 116.6h21.7v21.7h-21.7zM328.5 201.4h21.7v21.7h-21.7zM328.5 222.5h21.7v21.7h-21.7zM328.5 243.7h21.7v21.7h-21.7zM307.3 307.3h21.7v21.7h-21.7zM286.1 349.7h21.7v21.7h-21.7zM264.9 413.3h21.7v21.7h-21.7zM264.9 434.5h21.7v21.7h-21.7zM264.9 455.7h21.7v21.7h-21.7z"/><path fill="#727272" d="M10.6 -53h42.9v21.7h-42.9zM243.7 -53h21.7v21.7h-21.7zM10.6 -31.8h42.9v21.7h-42.9zM243.7 -31.8h21.7v21.7h-21.7zM10.6 -10.6h42.9v21.7h-42.9zM243.7 -10.6h21.7v21.7h-21.7zM-53 10.6h64.1v21.7h-64.1zM328.5 180.2h21.7v21.7h-21.7zM328.5 264.9h21.7v21.7h-21.7zM53 328.5h21.7v21.7h-21.7zM95.4 349.7h21.7v21.7h-21.7zM116.6 370.9h21.7v21.7h-21.7z"/><path fill="#747474" d="M-53 -53h64.1v21.7h-64.1zM-53 -31.8h64.1v21.7h-64.1zM-53 -10.6h64.1v21.7h-64.1zM286.1 53h21.7v21.7h-21.7zM328.5 159h21.7v21.7h-21.7zM10.6 328.5h42.9v21.7h-42.9zM307.3 328.5h21.7v21.7h-21.7zM116.6 392.1h21.7v21.7h-21.7zM116.6 413.3h21.7v21.7h-21.7zM116.6 434.5h21.7v21.7h-21.7zM116.6 455.7h21.7v21.7h-21.7z"/><path fill="#767676" d="M264.9 10.6h21.7v21.7h-21.7zM307.3 95.4h21.7v21.7h-21.7zM328.5 137.8h21.7v21.7h-21.7zM328.5 286.1h21.7v21.7h-21.7zM-53 328.5h64.1v21.7h-64.1zM286.1 370.9h21.7v21.7h-21.7z"/><path fill="#787878" d="M264.9 -53h21.7v21.7h-21.7zM264.9 -31.8h21.7v21.7h-21.7zM264.9 -10.6h21.7v21.7h-21.7zM286.1 31.8h21.7v21.7h-21.7zM328.5 116.6h21.7v21.7h-21.7zM74.2 349.7h21.7v21.7h-21.7zM95.4 370.9h21.7v21.7h-21.7zM286.1 392.1h21.7v21.7h-21.7zM-53 413.3h64.1v21.7h-64.1zM95.4 413.3h21.7v21.7h-21.7zM-53 434.5h64.1v21.7h-64.1zM95.4 434.5h21.7v21.7h-21.7zM-53 455.7h64.1v21.7h-64.1zM95.4 455.7h21.7v21.7h-21.7z"/><path fill="#7a7a7a" d="M307.3 74.2h21.7v21.7h-21.7zM349.7 201.4h21.7v21.7h-21.7zM349.7 222.5h21.7v21.7h-21.7zM349.7 243.7h21.7v21.7h-21.7zM328.5 307.3h21.7v21.7h-21.7zM95.4 392.1h21.7v21.7h-21.7zM286.1 413.3h21.7v21.7h-21.7zM286.1 434.5h21.7v21.7h-21.7zM286.1 455.7h21.7v21.7h-21.7z"/><path fill="#7c7c7c" d="M286.1 10.6h21.7v21.7h-21.7zM349.7 180.2h21.7v21.7h-21.7zM349.7 264.9h21.7v21.7h-21.7zM74.2 413.3h21.7v21.7h-21.7zM74.2 434.5h21.7v21.7h-21.7zM74.2 455.7h21.7v21.7h-21.7z"/><path fill="#7e7e7e" d="M307.3 53h21.7v21.7h-21.7zM328.5 95.4h21.7v21.7h-21.7zM349.7 159h21.7v21.7h-21.7zM-53 349.7h64.1v21.7h-64.1zM53 349.7h21.7v21.7h-21.7zM307.3 349.7h21.7v21.7h-21.7zM-53 392.1h64.1v21.7h-64.1zM10.6 413.3h21.7v21.7h-21.7zM10.6 434.5h21.7v21.7h-21.7zM10.6 455.7h21.7v21.7h-21.7z"/><path fill="#808080" d="M286.1 -53h21.7v21.7h-21.7zM286.1 -31.8h21.7v21.7h-21.7zM286.1 -10.6h21.7v21.7h-21.7zM307.3 31.8h21.7v21.7h-21.7zM349.7 286.1h21.7v21.7h-21.7zM328.5 328.5h21.7v21.7h-21.7zM10.6 349.7h42.9v21.7h-42.9zM74.2 370.9h21.7v21.7h-21.7zM74.2 392.1h21.7v21.7h-21.7zM53 413.3h21.7v21.7h-21.7zM53 434.5h21.7v21.7h-21.7zM53 455.7h21.7v21.7h-21.7z"/><path fill="#828282" d="M307.3 10.6h21.7v21.7h-21.7zM349.7 137.8h21.7v21.7h-21.7zM-53 370.9h64.1v21.7h-64.1zM31.8 413.3h21.7v21.7h-21.7zM31.8 434.5h21.7v21.7h-21.7zM31.8 455.7h21.7v21.7h-21.7z"/><path fill="#848484" d="M307.3 -53h21.7v21.7h-21.7zM413.3 -53h64.1v21.7h-64.1zM307.3 -31.8h21.7v21.7h-21.7zM413.3 -31.8h64.1v21.7h-64.1zM307.3 -10.6h21.7v21.7h-21.7zM413.3 -10.6h64.1v21.7h-64.1zM328.5 74.2h21.7v21.7h-21.7zM349.7 116.6h21.7v21.7h-21.7zM370.9 201.4h21.7v21.7h-21.7zM370.9 222.5h21.7v21.7h-21.7zM370.9 243.7h21.7v21.7h-21.7zM10.6 392.1h21.7v21.7h-21.7zM53 392.1h21.7v21.7h-21.7z"/><path fill="#868686" d="M370.9 180.2h21.7v21.7h-21.7zM349.7 307.3h21.7v21.7h-21.7zM10.6 370.9h21.7v21.7h-21.7zM53 370.9h21.7v21.7h-21.7zM307.3 370.9h21.7v21.7h-21.7z"/><path fill="#888888" d="M328.5 -53h21.7v21.7h-21.7zM392.1 -53h21.7v21.7h-21.7zM328.5 -31.8h21.7v21.7h-21.7zM392.1 -31.8h21.7v21.7h-21.7zM328.5 -10.6h21.7v21.7h-21.7zM392.1 -10.6h21.7v21.7h-21.7zM328.5 10.6h21.7v21.7h-21.7zM328.5 53h21.7v21.7h-21.7zM349.7 95.4h21.7v21.7h-21.7zM370.9 264.9h21.7v21.7h-21.7zM31.8 392.1h21.7v21.7h-21.7z"/><path fill="#8a8a8a" d="M349.7 -53h42.9v21.7h-42.9zM349.7 -31.8h42.9v21.7h-42.9zM349.7 -10.6h42.9v21.7h-42.9zM392.1 10.6h85.3v21.7h-85.3zM328.5 31.8h21.7v21.7h-21.7zM370.9 159h21.7v21.7h-21.7zM31.8 370.9h21.7v21.7h-21.7z"/><path fill="#8c8c8c" d="M349.7 10.6h42.9v21.7h-42.9zM349.7 74.2h21.7v21.7h-21.7zM370.9 137.8h21.7v21.7h-21.7zM370.9 286.1h21.7v21.7h-21.7zM328.5 349.7h21.7v21.7h-21.7zM307.3 392.1h21.7v21.7h-21.7z"/><path fill="#8e8e8e" d="M349.7 31.8h42.9v21.7h-42.9zM413.3 31.8h64.1v21.7h-64.1zM349.7 53h21.7v21.7h-21.7zM370.9 116.6h21.7v21.7h-21.7z"/><path fill="#909090" d="M392.1 31.8h21.7v21.7h-21.7zM370.9 53h21.7v21.7h-21.7zM370.9 95.4h21.7v21.7h-21.7zM392.1 201.4h21.7v21.7h-21.7zM392.1 222.5h21.7v21.7h-21.7zM349.7 328.5h21.7v21.7h-21.7zM307.3 413.3h21.7v21.7h-21.7zM307.3 434.5h21.7v21.7h-21.7zM307.3 455.7h21.7v21.7h-21.7z"/><path fill="#929292" d="M392.1 53h21.7v21.7h-21.7zM370.9 74.2h21.7v21.7h-21.7zM392.1 180.2h21.7v21.7h-21.7zM392.1 243.7h21.7v21.7h-21.7z"/><path fill="#949494" d="M413.3 53h64.1v21.7h-64.1zM392.1 74.2h21.7v21.7h-21.7zM392.1 137.8h21.7v21.7h-21.7zM392.1 159h21.7v21.7h-21.7zM392.1 264.9h21.7v21.7h-21.7z"/><path fill="#969696" d="M413.3 74.2h64.1v21.7h-64.1zM392.1 95.4h21.7v21.7h-21.7zM392.1 116.6h21.7v21.7h-21.7zM370.9 307.3h21.7v21.7h-21.7z"/><path fill="#989898" d="M413.3 95.4h64.1v21.7h-64.1zM328.5 370.9h21.7v21.7h-21.7z"/><path fill="#9a9a9a" d="M413.3 116.6h64.1v21.7h-64.1zM413.3 137.8h64.1v21.7h-64.1zM413.3 180.2h64.1v21.7h-64.1zM413.3 201.4h64.1v21.7h-64.1zM413.3 222.5h64.1v21.7h-64.1zM392.1 286.1h21.7v21.7h-21.7z"/><path fill="#9c9c9c" d="M413.3 159h64.1v21.7h-64.1zM413.3 243.7h64.1v21.7h-64.1zM349.7 349.7h21.7v21.7h-21.7z"/><path fill="#a0a0a0" d="M413.3 264.9h64.1v21.7h-64.1zM370.9 328.5h21.7v21.7h-21.7z"/><path fill="#a2a2a2" d="M328.5 392.1h21.7v21.7h-21.7z"/><path fill="#a4a4a4" d="M392.1 307.3h21.7v21.7h-21.7z"/><path fill="#a6a6a6" d="M413.3 286.1h64.1v21.7h-64.1z"/><path fill="#a8a8a8" d="M328.5 413.3h21.7v21.7h-21.7zM328.5 434.5h21.7v21.7h-21.7zM328.5 455.7h21.7v21.7h-21.7z"/><path fill="#aaaaaa" d="M349.7 370.9h21.7v21.7h-21.7z"/><path fill="#acacac" d="M370.9 349.7h21.7v21.7h-21.7z"/><path fill="#b0b0b0" d="M413.3 307.3h64.1v21.7h-64.1zM392.1 328.5h21.7v21.7h-21.7z"/><path fill="#b2b2b2" d="M349.7 392.1h21.7v21.7h-21.7z"/><path fill="#b8b8b8" d="M370.9 370.9h21.7v21.7h-21.7z"/><path fill="#bababa" d="M413.3 328.5h64.1v21.7h-64.1zM392.1 349.7h21.7v21.7h-21.7zM349.7 413.3h21.7v21.7h-21.7zM349.7 434.5h21.7v21.7h-21.7zM349.7 455.7h21.7v21.7h-21.7z"/><path fill="#c0c0c0" d="M370.9 392.1h21.7v21.7h-21.7z"/><path fill="#c4c4c4" d="M413.3 349.7h64.1v21.7h-64.1zM392.1 370.9h21.7v21.7h-21.7z"/><path fill="#c6c6c6" d="M370.9 413.3h21.7v21.7h-21.7zM370.9 434.5h21.7v21.7h-21.7zM370.9 455.7h21.7v21.7h-21.7z"/><path fill="#cccccc" d="M413.3 370.9h64.1v21.7h-64.1z"/><path fill="#cecece" d="M392.1 392.1h21.7v21.7h-21.7z"/><path fill="#d4d4d4" d="M392.1 413.3h21.7v21.7h-21.7zM392.1 434.5h21.7v21.7h-21.7zM392.1 455.7h21.7v21.7h-21.7z"/><path fill="#d6d6d6" d="M413.3 392.1h64.1v21.7h-64.1z"/><path fill="#dedede" d="M413.3 413.3h64.1v21.7h-64.1zM413.3 434.5h64.1v21.7h-64.1zM413.3 455.7h64.1v21.7h-64.1z"/></g></g></g><path d="M94.6 1329.1V1324.4M94.6 1756.8V1761.7M93.1 1330.6H88.3M520.0 1330.6H525.4M137.0 1329.1V1324.4M137.0 1756.8V1761.7M93.1 1373.1H88.3M520.0 1373.1H525.4M179.4 1329.1V1324.4M179.4 1756.8V1761.7M93.1 1415.5H88.3M520.0 1415.5H525.4M221.8 1329.1V1324.4M221.8 1756.8V1761.7M93.1 1458.0H88.3M520.0 1458.0H525.4M264.2 1329.1V1324.4M264.2 1756.8V1761.7M93.1 1500.5H88.3M520.0 1500.5H525.4M306.5 1329.1V1324.4M306.5 1756.8V1761.7M93.1 1542.9H88.3M520.0 1542.9H525.4M348.9 1329.1V1324.4M348.9 1756.8V1761.7M93.1 1585.4H88.3M520.0 1585.4H525.4M391.3 1329.1V1324.4M391.3 1756.8V1761.7M93.1 1627.9H88.3M520.0 1627.9H525.4M433.7 1329.1V1324.4M433.7 1756.8V1761.7M93.1 1670.4H88.3M520.0 1670.4H525.4M476.1 1329.1V1324.4M476.1 1756.8V1761.7M93.1 1712.8H88.3M520.0 1712.8H525.4M518.5 1329.1V1324.4M518.5 1756.8V1761.7M93.1 1755.3H88.3M520.0 1755.3H525.4" stroke="#000" stroke-width="3" fill="none"/><rect x="94.6" y="1330.6" width="423.9" height="424.7" fill="none" stroke="#000" stroke-width="3.2"/><text x="94.8" y="1792.8" font-size="30.5" text-anchor="middle" >-5</text><text x="88.0" y="1344.4" font-size="30.5" text-anchor="end" >5</text><text x="137.2" y="1792.8" font-size="30.5" text-anchor="middle" >-4</text><text x="88.0" y="1386.9" font-size="30.5" text-anchor="end" >4</text><text x="179.6" y="1792.8" font-size="30.5" text-anchor="middle" >-3</text><text x="88.0" y="1429.3" font-size="30.5" text-anchor="end" >3</text><text x="222.0" y="1792.8" font-size="30.5" text-anchor="middle" >-2</text><text x="88.0" y="1471.8" font-size="30.5" text-anchor="end" >2</text><text x="264.4" y="1792.8" font-size="30.5" text-anchor="middle" >-1</text><text x="88.0" y="1514.3" font-size="30.5" text-anchor="end" >1</text><text x="306.3" y="1792.8" font-size="30.5" text-anchor="middle" >0</text><text x="88.0" y="1556.7" font-size="30.5" text-anchor="end" >0</text><text x="348.7" y="1792.8" font-size="30.5" text-anchor="middle" >1</text><text x="88.0" y="1599.2" font-size="30.5" text-anchor="end" >-1</text><text x="391.1" y="1792.8" font-size="30.5" text-anchor="middle" >2</text><text x="88.0" y="1641.7" font-size="30.5" text-anchor="end" >-2</text><text x="433.5" y="1792.8" font-size="30.5" text-anchor="middle" >3</text><text x="88.0" y="1684.2" font-size="30.5" text-anchor="end" >-3</text><text x="475.9" y="1792.8" font-size="30.5" text-anchor="middle" >4</text><text x="88.0" y="1726.6" font-size="30.5" text-anchor="end" >-4</text><text x="518.3" y="1792.8" font-size="30.5" text-anchor="middle" >5</text><text x="88.0" y="1769.1" font-size="30.5" text-anchor="end" >-5</text><rect x="543.2" y="1331.4" width="26.8" height="425.5" fill="url(#cm1)"/><text x="577.6" y="1347.8" font-size="30.5" text-anchor="start" >0</text><text x="577.6" y="1408.4" font-size="30.5" text-anchor="start" >-1</text><text x="577.6" y="1468.9" font-size="30.5" text-anchor="start" >-2</text><text x="577.6" y="1529.5" font-size="30.5" text-anchor="start" >-3</text><text x="577.6" y="1590.0" font-size="30.5" text-anchor="start" >-4</text><text x="577.6" y="1650.6" font-size="30.5" text-anchor="start" >-5</text><text x="577.6" y="1711.1" font-size="30.5" text-anchor="start" >-6</text><text x="577.6" y="1771.7" font-size="30.5" text-anchor="start" >-7</text><text x="-1.0" y="1308.6" font-size="52" text-anchor="start" >(d)</text><text x="309.2" y="1831.6" font-size="42.5" text-anchor="middle" ><tspan font-style="italic">x</tspan>-axis (mm)</text><text transform="translate(46.8 1542.7) rotate(-90)" font-size="41.4" text-anchor="middle" ><tspan font-style="italic">y</tspan>-axis (mm)</text><text transform="translate(666.7 1543.2) rotate(-90)" font-size="42.5" text-anchor="middle" >Normalized intensity</text><text transform="translate(715.7 1541.7) rotate(-90)" font-size="42.5" text-anchor="middle" >of electric field (dB)</text>
<g transform="translate(863.5 1330.6)"><g clip-path="url(#cpe)"><g filter="url(#fB)"><path fill="#222222" d="M52.9 116.5h21.7v21.7h-21.7z"/><path fill="#242424" d="M31.8 116.5h21.7v21.7h-21.7zM74.1 116.5h21.7v21.7h-21.7z"/><path fill="#262626" d="M10.6 116.5h21.7v21.7h-21.7z"/><path fill="#282828" d="M-52.9 116.5h64v21.7h-64z"/><path fill="#2a2a2a" d="M52.9 95.3h21.7v21.7h-21.7zM95.3 116.5h21.7v21.7h-21.7z"/><path fill="#2c2c2c" d="M31.8 95.3h21.7v21.7h-21.7zM74.1 95.3h21.7v21.7h-21.7z"/><path fill="#2e2e2e" d="M10.6 95.3h21.7v21.7h-21.7z"/><path fill="#303030" d="M-52.9 95.3h64v21.7h-64zM95.3 95.3h21.7v21.7h-21.7zM31.8 137.7h42.9v21.7h-42.9z"/><path fill="#323232" d="M74.1 137.7h21.7v21.7h-21.7z"/><path fill="#343434" d="M116.5 116.5h21.7v21.7h-21.7zM10.6 137.7h21.7v21.7h-21.7z"/><path fill="#363636" d="M-52.9 137.7h64v21.7h-64zM95.3 137.7h21.7v21.7h-21.7z"/><path fill="#383838" d="M116.5 95.3h21.7v21.7h-21.7z"/><path fill="#3a3a3a" d="M31.8 74.1h64v21.7h-64z"/><path fill="#3c3c3c" d="M10.6 74.1h21.7v21.7h-21.7zM116.5 137.7h21.7v21.7h-21.7z"/><path fill="#3e3e3e" d="M-52.9 74.1h64v21.7h-64zM95.3 74.1h21.7v21.7h-21.7zM137.7 116.5h21.7v21.7h-21.7z"/><path fill="#424242" d="M116.5 74.1h21.7v21.7h-21.7zM137.7 95.3h21.7v21.7h-21.7z"/><path fill="#444444" d="M-52.9 52.9h85.2v21.7h-85.2zM137.7 137.7h21.7v21.7h-21.7zM31.8 158.8h64v21.7h-64z"/><path fill="#464646" d="M31.8 52.9h42.9v21.7h-42.9zM95.3 158.8h21.7v21.7h-21.7z"/><path fill="#484848" d="M74.1 52.9h21.7v21.7h-21.7zM10.6 158.8h21.7v21.7h-21.7zM116.5 158.8h21.7v21.7h-21.7z"/><path fill="#4a4a4a" d="M95.3 52.9h21.7v21.7h-21.7zM158.8 116.5h21.7v21.7h-21.7zM-52.9 158.8h64v21.7h-64z"/><path fill="#4c4c4c" d="M137.7 74.1h21.7v21.7h-21.7zM158.8 137.7h21.7v21.7h-21.7zM137.7 158.8h21.7v21.7h-21.7z"/><path fill="#4e4e4e" d="M158.8 95.3h21.7v21.7h-21.7z"/><path fill="#505050" d="M-52.9 31.8h85.2v21.7h-85.2zM116.5 52.9h21.7v21.7h-21.7zM158.8 158.8h21.7v21.7h-21.7z"/><path fill="#525252" d="M31.8 31.8h21.7v21.7h-21.7zM180 116.5h21.7v21.7h-21.7zM180 137.7h21.7v21.7h-21.7zM180 158.8h21.7v21.7h-21.7zM95.3 180h85.2v21.7h-85.2zM222.4 201.2h42.9v21.7h-42.9zM222.4 222.4h42.9v21.7h-42.9zM243.6 243.6h21.7v21.7h-21.7z"/><path fill="#545454" d="M52.9 31.8h21.7v21.7h-21.7zM74.1 180h21.7v21.7h-21.7zM180 180h64v21.7h-64zM180 201.2h42.9v21.7h-42.9z"/><path fill="#565656" d="M74.1 31.8h21.7v21.7h-21.7zM137.7 52.9h21.7v21.7h-21.7zM158.8 74.1h21.7v21.7h-21.7zM201.2 137.7h21.7v21.7h-21.7zM201.2 158.8h21.7v21.7h-21.7zM52.9 180h21.7v21.7h-21.7zM158.8 201.2h21.7v21.7h-21.7zM201.2 222.4h21.7v21.7h-21.7zM264.7 222.4h21.7v21.7h-21.7zM222.4 243.6h21.7v21.7h-21.7zM264.7 243.6h21.7v21.7h-21.7zM243.6 264.7h21.7v21.7h-21.7z"/><path fill="#585858" d="M180 95.3h21.7v21.7h-21.7zM222.4 158.8h21.7v21.7h-21.7zM31.8 180h21.7v21.7h-21.7zM243.6 180h21.7v21.7h-21.7zM137.7 201.2h21.7v21.7h-21.7zM264.7 201.2h21.7v21.7h-21.7zM180 222.4h21.7v21.7h-21.7zM264.7 264.7h21.7v21.7h-21.7z"/><path fill="#5a5a5a" d="M95.3 31.8h21.7v21.7h-21.7zM201.2 116.5h21.7v21.7h-21.7zM116.5 201.2h21.7v21.7h-21.7zM201.2 243.6h21.7v21.7h-21.7zM285.9 243.6h21.7v21.7h-21.7zM222.4 264.7h21.7v21.7h-21.7z"/><path fill="#5c5c5c" d="M10.6 180h21.7v21.7h-21.7zM158.8 222.4h21.7v21.7h-21.7zM285.9 222.4h21.7v21.7h-21.7zM201.2 264.7h21.7v21.7h-21.7zM285.9 264.7h21.7v21.7h-21.7zM243.6 285.9h42.9v21.7h-42.9z"/><path fill="#5e5e5e" d="M116.5 31.8h21.7v21.7h-21.7zM222.4 137.7h21.7v21.7h-21.7zM243.6 158.8h21.7v21.7h-21.7zM264.7 180h21.7v21.7h-21.7zM95.3 201.2h21.7v21.7h-21.7zM285.9 201.2h21.7v21.7h-21.7zM180 243.6h21.7v21.7h-21.7zM222.4 285.9h21.7v21.7h-21.7zM285.9 285.9h21.7v21.7h-21.7zM243.6 307.1h42.9v21.7h-42.9z"/><path fill="#606060" d="M158.8 52.9h21.7v21.7h-21.7zM180 74.1h21.7v21.7h-21.7zM201.2 95.3h21.7v21.7h-21.7zM-52.9 180h64v21.7h-64zM74.1 201.2h21.7v21.7h-21.7zM137.7 222.4h21.7v21.7h-21.7zM158.8 243.6h21.7v21.7h-21.7zM180 264.7h21.7v21.7h-21.7zM201.2 285.9h21.7v21.7h-21.7zM222.4 307.1h21.7v21.7h-21.7zM285.9 307.1h21.7v21.7h-21.7z"/><path fill="#626262" d="M222.4 116.5h21.7v21.7h-21.7zM116.5 222.4h21.7v21.7h-21.7zM307.1 243.6h21.7v21.7h-21.7zM307.1 264.7h21.7v21.7h-21.7zM180 285.9h21.7v21.7h-21.7zM307.1 285.9h21.7v21.7h-21.7zM201.2 307.1h21.7v21.7h-21.7zM222.4 328.3h64v21.7h-64zM52.9 370.6h64v21.7h-64z"/><path fill="#646464" d="M137.7 31.8h21.7v21.7h-21.7zM243.6 137.7h21.7v21.7h-21.7zM264.7 158.8h21.7v21.7h-21.7zM285.9 180h21.7v21.7h-21.7zM52.9 201.2h21.7v21.7h-21.7zM307.1 222.4h21.7v21.7h-21.7zM137.7 243.6h21.7v21.7h-21.7zM158.8 264.7h21.7v21.7h-21.7zM158.8 285.9h21.7v21.7h-21.7zM180 307.1h21.7v21.7h-21.7zM307.1 307.1h21.7v21.7h-21.7zM116.5 328.3h106.4v21.7h-106.4zM285.9 328.3h21.7v21.7h-21.7zM31.8 349.5h106.4v21.7h-106.4zM31.8 370.6h21.7v21.7h-21.7zM116.5 370.6h21.7v21.7h-21.7z"/><path fill="#666666" d="M-52.9 10.6h85.2v21.7h-85.2zM95.3 222.4h21.7v21.7h-21.7zM137.7 264.7h21.7v21.7h-21.7zM137.7 285.9h21.7v21.7h-21.7zM116.5 307.1h64v21.7h-64zM95.3 328.3h21.7v21.7h-21.7zM307.1 328.3h21.7v21.7h-21.7zM10.6 349.5h21.7v21.7h-21.7zM137.7 349.5h148.8v21.7h-148.8zM10.6 370.6h21.7v21.7h-21.7zM137.7 370.6h21.7v21.7h-21.7zM31.8 391.8h85.2v21.7h-85.2z"/><path fill="#686868" d="M31.8 10.6h42.9v21.7h-42.9zM180 52.9h21.7v21.7h-21.7zM201.2 74.1h21.7v21.7h-21.7zM31.8 201.2h21.7v21.7h-21.7zM307.1 201.2h21.7v21.7h-21.7zM116.5 243.6h21.7v21.7h-21.7zM116.5 285.9h21.7v21.7h-21.7zM328.3 285.9h21.7v21.7h-21.7zM95.3 307.1h21.7v21.7h-21.7zM328.3 307.1h21.7v21.7h-21.7zM31.8 328.3h64v21.7h-64zM-52.9 349.5h64v21.7h-64zM285.9 349.5h21.7v21.7h-21.7zM-52.9 370.6h64v21.7h-64zM158.8 370.6h21.7v21.7h-21.7zM10.6 391.8h21.7v21.7h-21.7zM116.5 391.8h21.7v21.7h-21.7z"/><path fill="#6a6a6a" d="M74.1 10.6h21.7v21.7h-21.7zM158.8 31.8h21.7v21.7h-21.7zM222.4 95.3h21.7v21.7h-21.7zM243.6 116.5h21.7v21.7h-21.7zM116.5 264.7h21.7v21.7h-21.7zM328.3 264.7h21.7v21.7h-21.7zM74.1 307.1h21.7v21.7h-21.7zM10.6 328.3h21.7v21.7h-21.7zM328.3 328.3h21.7v21.7h-21.7zM180 370.6h85.2v21.7h-85.2zM-52.9 391.8h64v21.7h-64zM137.7 391.8h21.7v21.7h-21.7zM31.8 413h64v21.7h-64zM31.8 434.2h64v21.7h-64zM31.8 455.4h64v21.7h-64z"/><path fill="#6c6c6c" d="M264.7 137.7h21.7v21.7h-21.7zM285.9 158.8h21.7v21.7h-21.7zM74.1 222.4h21.7v21.7h-21.7zM328.3 243.6h21.7v21.7h-21.7zM95.3 285.9h21.7v21.7h-21.7zM52.9 307.1h21.7v21.7h-21.7zM-52.9 328.3h64v21.7h-64zM307.1 349.5h21.7v21.7h-21.7zM264.7 370.6h21.7v21.7h-21.7zM158.8 391.8h21.7v21.7h-21.7zM10.6 413h21.7v21.7h-21.7zM95.3 413h42.9v21.7h-42.9zM10.6 434.2h21.7v21.7h-21.7zM95.3 434.2h42.9v21.7h-42.9zM10.6 455.4h21.7v21.7h-21.7zM95.3 455.4h42.9v21.7h-42.9z"/><path fill="#6e6e6e" d="M95.3 10.6h21.7v21.7h-21.7zM307.1 180h21.7v21.7h-21.7zM10.6 201.2h21.7v21.7h-21.7zM328.3 222.4h21.7v21.7h-21.7zM95.3 243.6h21.7v21.7h-21.7zM95.3 264.7h21.7v21.7h-21.7zM74.1 285.9h21.7v21.7h-21.7zM349.5 285.9h21.7v21.7h-21.7zM31.8 307.1h21.7v21.7h-21.7zM349.5 307.1h21.7v21.7h-21.7zM349.5 328.3h21.7v21.7h-21.7zM328.3 349.5h21.7v21.7h-21.7zM285.9 370.6h21.7v21.7h-21.7zM180 391.8h21.7v21.7h-21.7zM-52.9 413h64v21.7h-64zM137.7 413h21.7v21.7h-21.7zM-52.9 434.2h64v21.7h-64zM137.7 434.2h21.7v21.7h-21.7zM-52.9 455.4h64v21.7h-64zM137.7 455.4h21.7v21.7h-21.7z"/><path fill="#707070" d="M116.5 10.6h21.7v21.7h-21.7zM180 31.8h21.7v21.7h-21.7zM201.2 52.9h21.7v21.7h-21.7zM222.4 74.1h21.7v21.7h-21.7zM243.6 95.3h21.7v21.7h-21.7zM52.9 222.4h21.7v21.7h-21.7zM349.5 264.7h21.7v21.7h-21.7zM307.1 370.6h21.7v21.7h-21.7zM201.2 391.8h64v21.7h-64zM158.8 413h21.7v21.7h-21.7zM158.8 434.2h21.7v21.7h-21.7zM158.8 455.4h21.7v21.7h-21.7z"/><path fill="#727272" d="M137.7 10.6h21.7v21.7h-21.7zM264.7 116.5h21.7v21.7h-21.7zM285.9 137.7h21.7v21.7h-21.7zM328.3 201.2h21.7v21.7h-21.7zM74.1 243.6h21.7v21.7h-21.7zM349.5 243.6h21.7v21.7h-21.7zM74.1 264.7h21.7v21.7h-21.7zM52.9 285.9h21.7v21.7h-21.7zM-52.9 307.1h85.2v21.7h-85.2zM349.5 349.5h21.7v21.7h-21.7zM264.7 391.8h21.7v21.7h-21.7zM180 413h21.7v21.7h-21.7zM180 434.2h21.7v21.7h-21.7zM180 455.4h21.7v21.7h-21.7z"/><path fill="#747474" d="M307.1 158.8h21.7v21.7h-21.7zM-52.9 201.2h64v21.7h-64zM31.8 222.4h21.7v21.7h-21.7zM370.6 307.1h21.7v21.7h-21.7zM370.6 328.3h21.7v21.7h-21.7zM328.3 370.6h21.7v21.7h-21.7zM285.9 391.8h21.7v21.7h-21.7zM201.2 413h42.9v21.7h-42.9zM201.2 434.2h42.9v21.7h-42.9zM201.2 455.4h42.9v21.7h-42.9z"/><path fill="#767676" d="M158.8 10.6h21.7v21.7h-21.7zM201.2 31.8h21.7v21.7h-21.7zM243.6 74.1h21.7v21.7h-21.7zM328.3 180h21.7v21.7h-21.7zM349.5 222.4h21.7v21.7h-21.7zM52.9 243.6h21.7v21.7h-21.7zM52.9 264.7h21.7v21.7h-21.7zM370.6 264.7h21.7v21.7h-21.7zM31.8 285.9h21.7v21.7h-21.7zM370.6 285.9h21.7v21.7h-21.7zM370.6 349.5h21.7v21.7h-21.7zM349.5 370.6h21.7v21.7h-21.7zM307.1 391.8h21.7v21.7h-21.7zM243.6 413h42.9v21.7h-42.9zM243.6 434.2h42.9v21.7h-42.9zM243.6 455.4h42.9v21.7h-42.9z"/><path fill="#787878" d="M222.4 52.9h21.7v21.7h-21.7zM264.7 95.3h21.7v21.7h-21.7zM285.9 116.5h21.7v21.7h-21.7zM370.6 243.6h21.7v21.7h-21.7zM10.6 285.9h21.7v21.7h-21.7zM391.8 328.3h21.7v21.7h-21.7zM285.9 413h21.7v21.7h-21.7zM285.9 434.2h21.7v21.7h-21.7zM285.9 455.4h21.7v21.7h-21.7z"/><path fill="#7a7a7a" d="M-52.9 -52.9h127.6v21.7h-127.6zM-52.9 -31.8h127.6v21.7h-127.6zM-52.9 -10.6h127.6v21.7h-127.6zM180 10.6h21.7v21.7h-21.7zM307.1 137.7h21.7v21.7h-21.7zM328.3 158.8h21.7v21.7h-21.7zM349.5 201.2h21.7v21.7h-21.7zM10.6 222.4h21.7v21.7h-21.7zM31.8 243.6h21.7v21.7h-21.7zM31.8 264.7h21.7v21.7h-21.7zM-52.9 285.9h64v21.7h-64zM391.8 307.1h21.7v21.7h-21.7zM391.8 349.5h21.7v21.7h-21.7zM370.6 370.6h21.7v21.7h-21.7zM328.3 391.8h21.7v21.7h-21.7z"/><path fill="#7c7c7c" d="M74.1 -52.9h64v21.7h-64zM74.1 -31.8h64v21.7h-64zM74.1 -10.6h64v21.7h-64zM264.7 74.1h21.7v21.7h-21.7zM370.6 222.4h21.7v21.7h-21.7zM391.8 285.9h21.7v21.7h-21.7zM413 328.3h64v21.7h-64zM307.1 413h21.7v21.7h-21.7zM307.1 434.2h21.7v21.7h-21.7zM307.1 455.4h21.7v21.7h-21.7z"/><path fill="#7e7e7e" d="M137.7 -52.9h21.7v21.7h-21.7zM137.7 -31.8h21.7v21.7h-21.7zM137.7 -10.6h21.7v21.7h-21.7zM201.2 10.6h21.7v21.7h-21.7zM222.4 31.8h21.7v21.7h-21.7zM243.6 52.9h21.7v21.7h-21.7zM285.9 95.3h21.7v21.7h-21.7zM307.1 116.5h21.7v21.7h-21.7zM349.5 180h21.7v21.7h-21.7zM10.6 264.7h21.7v21.7h-21.7zM391.8 264.7h21.7v21.7h-21.7zM413 307.1h64v21.7h-64zM413 349.5h64v21.7h-64zM391.8 370.6h21.7v21.7h-21.7zM349.5 391.8h21.7v21.7h-21.7z"/><path fill="#808080" d="M158.8 -52.9h21.7v21.7h-21.7zM158.8 -31.8h21.7v21.7h-21.7zM158.8 -10.6h21.7v21.7h-21.7zM328.3 137.7h21.7v21.7h-21.7zM370.6 201.2h21.7v21.7h-21.7zM-52.9 222.4h64v21.7h-64zM10.6 243.6h21.7v21.7h-21.7zM391.8 243.6h21.7v21.7h-21.7zM413 285.9h64v21.7h-64zM328.3 413h21.7v21.7h-21.7zM328.3 434.2h21.7v21.7h-21.7zM328.3 455.4h21.7v21.7h-21.7z"/><path fill="#828282" d="M180 -52.9h21.7v21.7h-21.7zM180 -31.8h21.7v21.7h-21.7zM180 -10.6h21.7v21.7h-21.7zM285.9 74.1h21.7v21.7h-21.7zM349.5 158.8h21.7v21.7h-21.7zM-52.9 264.7h64v21.7h-64zM413 370.6h64v21.7h-64zM370.6 391.8h21.7v21.7h-21.7z"/><path fill="#848484" d="M201.2 -52.9h21.7v21.7h-21.7zM201.2 -31.8h21.7v21.7h-21.7zM201.2 -10.6h21.7v21.7h-21.7zM222.4 10.6h21.7v21.7h-21.7zM243.6 31.8h21.7v21.7h-21.7zM264.7 52.9h21.7v21.7h-21.7zM307.1 95.3h21.7v21.7h-21.7zM328.3 116.5h21.7v21.7h-21.7zM370.6 180h21.7v21.7h-21.7zM391.8 222.4h21.7v21.7h-21.7zM-52.9 243.6h64v21.7h-64zM413 264.7h64v21.7h-64zM349.5 413h21.7v21.7h-21.7zM349.5 434.2h21.7v21.7h-21.7zM349.5 455.4h21.7v21.7h-21.7z"/><path fill="#868686" d="M349.5 137.7h21.7v21.7h-21.7zM391.8 201.2h21.7v21.7h-21.7zM391.8 391.8h21.7v21.7h-21.7z"/><path fill="#888888" d="M222.4 -52.9h21.7v21.7h-21.7zM222.4 -31.8h21.7v21.7h-21.7zM222.4 -10.6h21.7v21.7h-21.7zM264.7 31.8h21.7v21.7h-21.7zM285.9 52.9h21.7v21.7h-21.7zM307.1 74.1h21.7v21.7h-21.7zM328.3 95.3h21.7v21.7h-21.7zM370.6 158.8h21.7v21.7h-21.7zM413 243.6h64v21.7h-64zM413 391.8h64v21.7h-64zM370.6 413h21.7v21.7h-21.7zM370.6 434.2h21.7v21.7h-21.7zM370.6 455.4h21.7v21.7h-21.7z"/><path fill="#8a8a8a" d="M243.6 10.6h21.7v21.7h-21.7zM349.5 116.5h21.7v21.7h-21.7zM391.8 180h21.7v21.7h-21.7zM413 222.4h64v21.7h-64z"/><path fill="#8c8c8c" d="M243.6 -52.9h21.7v21.7h-21.7zM243.6 -31.8h21.7v21.7h-21.7zM243.6 -10.6h21.7v21.7h-21.7zM264.7 10.6h21.7v21.7h-21.7zM285.9 31.8h21.7v21.7h-21.7zM307.1 52.9h21.7v21.7h-21.7zM328.3 74.1h21.7v21.7h-21.7zM370.6 137.7h21.7v21.7h-21.7zM413 201.2h64v21.7h-64zM391.8 413h21.7v21.7h-21.7zM391.8 434.2h21.7v21.7h-21.7zM391.8 455.4h21.7v21.7h-21.7z"/><path fill="#8e8e8e" d="M264.7 -52.9h21.7v21.7h-21.7zM264.7 -31.8h21.7v21.7h-21.7zM264.7 -10.6h21.7v21.7h-21.7zM349.5 95.3h21.7v21.7h-21.7zM370.6 116.5h21.7v21.7h-21.7zM391.8 158.8h21.7v21.7h-21.7zM413 180h64v21.7h-64zM413 413h64v21.7h-64zM413 434.2h64v21.7h-64zM413 455.4h64v21.7h-64z"/><path fill="#909090" d="M285.9 10.6h21.7v21.7h-21.7zM307.1 31.8h21.7v21.7h-21.7zM328.3 52.9h21.7v21.7h-21.7zM349.5 74.1h21.7v21.7h-21.7zM391.8 137.7h21.7v21.7h-21.7z"/><path fill="#929292" d="M285.9 -52.9h21.7v21.7h-21.7zM285.9 -31.8h21.7v21.7h-21.7zM285.9 -10.6h21.7v21.7h-21.7zM307.1 10.6h21.7v21.7h-21.7zM370.6 95.3h21.7v21.7h-21.7zM413 158.8h64v21.7h-64z"/><path fill="#949494" d="M307.1 -52.9h21.7v21.7h-21.7zM307.1 -31.8h21.7v21.7h-21.7zM307.1 -10.6h21.7v21.7h-21.7zM328.3 31.8h21.7v21.7h-21.7zM349.5 52.9h21.7v21.7h-21.7zM370.6 74.1h21.7v21.7h-21.7zM391.8 116.5h21.7v21.7h-21.7zM413 137.7h64v21.7h-64z"/><path fill="#969696" d="M328.3 -52.9h21.7v21.7h-21.7zM328.3 -31.8h21.7v21.7h-21.7zM328.3 -10.6h21.7v21.7h-21.7zM328.3 10.6h21.7v21.7h-21.7zM349.5 31.8h21.7v21.7h-21.7zM370.6 52.9h21.7v21.7h-21.7zM391.8 95.3h21.7v21.7h-21.7zM413 116.5h64v21.7h-64z"/><path fill="#989898" d="M349.5 -52.9h21.7v21.7h-21.7zM349.5 -31.8h21.7v21.7h-21.7zM349.5 -10.6h21.7v21.7h-21.7zM349.5 10.6h21.7v21.7h-21.7zM370.6 31.8h21.7v21.7h-21.7zM391.8 74.1h21.7v21.7h-21.7z"/><path fill="#9a9a9a" d="M370.6 10.6h21.7v21.7h-21.7zM391.8 52.9h21.7v21.7h-21.7zM413 95.3h64v21.7h-64z"/><path fill="#9c9c9c" d="M370.6 -52.9h21.7v21.7h-21.7zM370.6 -31.8h21.7v21.7h-21.7zM370.6 -10.6h21.7v21.7h-21.7zM391.8 31.8h21.7v21.7h-21.7zM413 52.9h64v21.7h-64zM413 74.1h64v21.7h-64z"/><path fill="#9e9e9e" d="M391.8 -52.9h21.7v21.7h-21.7zM391.8 -31.8h21.7v21.7h-21.7zM391.8 -10.6h21.7v21.7h-21.7zM391.8 10.6h21.7v21.7h-21.7zM413 31.8h64v21.7h-64z"/><path fill="#a0a0a0" d="M413 -52.9h64v21.7h-64zM413 -31.8h64v21.7h-64zM413 -10.6h64v21.7h-64zM413 10.6h64v21.7h-64z"/></g></g></g><path d="M863.5 1329.1V1324.4M863.5 1756.8V1761.7M862.0 1330.6H857.2M1288.6 1330.6H1294.0M905.9 1329.1V1324.4M905.9 1756.8V1761.7M862.0 1373.1H857.2M1288.6 1373.1H1294.0M948.2 1329.1V1324.4M948.2 1756.8V1761.7M862.0 1415.5H857.2M1288.6 1415.5H1294.0M990.6 1329.1V1324.4M990.6 1756.8V1761.7M862.0 1458.0H857.2M1288.6 1458.0H1294.0M1032.9 1329.1V1324.4M1032.9 1756.8V1761.7M862.0 1500.5H857.2M1288.6 1500.5H1294.0M1075.3 1329.1V1324.4M1075.3 1756.8V1761.7M862.0 1542.9H857.2M1288.6 1542.9H1294.0M1117.7 1329.1V1324.4M1117.7 1756.8V1761.7M862.0 1585.4H857.2M1288.6 1585.4H1294.0M1160.0 1329.1V1324.4M1160.0 1756.8V1761.7M862.0 1627.9H857.2M1288.6 1627.9H1294.0M1202.4 1329.1V1324.4M1202.4 1756.8V1761.7M862.0 1670.4H857.2M1288.6 1670.4H1294.0M1244.7 1329.1V1324.4M1244.7 1756.8V1761.7M862.0 1712.8H857.2M1288.6 1712.8H1294.0M1287.1 1329.1V1324.4M1287.1 1756.8V1761.7M862.0 1755.3H857.2M1288.6 1755.3H1294.0" stroke="#000" stroke-width="3" fill="none"/><rect x="863.5" y="1330.6" width="423.6" height="424.7" fill="none" stroke="#000" stroke-width="3.2"/><text x="863.7" y="1792.8" font-size="30.5" text-anchor="middle" >-5</text><text x="856.9" y="1344.4" font-size="30.5" text-anchor="end" >5</text><text x="906.1" y="1792.8" font-size="30.5" text-anchor="middle" >-4</text><text x="856.9" y="1386.9" font-size="30.5" text-anchor="end" >4</text><text x="948.4" y="1792.8" font-size="30.5" text-anchor="middle" >-3</text><text x="856.9" y="1429.3" font-size="30.5" text-anchor="end" >3</text><text x="990.8" y="1792.8" font-size="30.5" text-anchor="middle" >-2</text><text x="856.9" y="1471.8" font-size="30.5" text-anchor="end" >2</text><text x="1033.1" y="1792.8" font-size="30.5" text-anchor="middle" >-1</text><text x="856.9" y="1514.3" font-size="30.5" text-anchor="end" >1</text><text x="1075.1" y="1792.8" font-size="30.5" text-anchor="middle" >0</text><text x="856.9" y="1556.7" font-size="30.5" text-anchor="end" >0</text><text x="1117.5" y="1792.8" font-size="30.5" text-anchor="middle" >1</text><text x="856.9" y="1599.2" font-size="30.5" text-anchor="end" >-1</text><text x="1159.8" y="1792.8" font-size="30.5" text-anchor="middle" >2</text><text x="856.9" y="1641.7" font-size="30.5" text-anchor="end" >-2</text><text x="1202.2" y="1792.8" font-size="30.5" text-anchor="middle" >3</text><text x="856.9" y="1684.2" font-size="30.5" text-anchor="end" >-3</text><text x="1244.5" y="1792.8" font-size="30.5" text-anchor="middle" >4</text><text x="856.9" y="1726.6" font-size="30.5" text-anchor="end" >-4</text><text x="1286.9" y="1792.8" font-size="30.5" text-anchor="middle" >5</text><text x="856.9" y="1769.1" font-size="30.5" text-anchor="end" >-5</text><rect x="1312.1" y="1331.4" width="26.8" height="425.5" fill="url(#cm1)"/><text x="1346.5" y="1347.8" font-size="30.5" text-anchor="start" >0</text><text x="1346.5" y="1408.4" font-size="30.5" text-anchor="start" >-1</text><text x="1346.5" y="1468.9" font-size="30.5" text-anchor="start" >-2</text><text x="1346.5" y="1529.5" font-size="30.5" text-anchor="start" >-3</text><text x="1346.5" y="1590.0" font-size="30.5" text-anchor="start" >-4</text><text x="1346.5" y="1650.6" font-size="30.5" text-anchor="start" >-5</text><text x="1346.5" y="1711.1" font-size="30.5" text-anchor="start" >-6</text><text x="1346.5" y="1771.7" font-size="30.5" text-anchor="start" >-7</text><text x="767.9" y="1308.6" font-size="52" text-anchor="start" >(e)</text><text x="1077.9" y="1831.6" font-size="42.5" text-anchor="middle" ><tspan font-style="italic">x</tspan>-axis (mm)</text><text transform="translate(815.7 1542.7) rotate(-90)" font-size="41.4" text-anchor="middle" ><tspan font-style="italic">y</tspan>-axis (mm)</text><text transform="translate(1435.6 1543.2) rotate(-90)" font-size="42.5" text-anchor="middle" >Normalized intensity</text><text transform="translate(1484.6 1541.7) rotate(-90)" font-size="42.5" text-anchor="middle" >of electric field (dB)</text>
<g transform="translate(102.6 1939.5)"><g clip-path="url(#cpf)"><g filter="url(#fF)"><path fill="#a2a2a2" d="M401.7 -105.7h127.3v42.8h-127.3zM401.7 -63.4h127.3v42.8h-127.3zM401.7 -21.1h127.3v42.8h-127.3z"/><path fill="#b2b2b2" d="M401.7 21.1h127.3v42.8h-127.3z"/><path fill="#b6b6b6" d="M359.4 -105.7h42.8v42.8h-42.8zM359.4 -63.4h42.8v42.8h-42.8zM359.4 -21.1h42.8v42.8h-42.8z"/><path fill="#c0c0c0" d="M401.7 63.4h127.3v42.8h-127.3z"/><path fill="#c4c4c4" d="M359.4 21.1h42.8v42.8h-42.8z"/><path fill="#c8c8c8" d="M317.1 -105.7h42.8v42.8h-42.8zM317.1 -63.4h42.8v42.8h-42.8zM317.1 -21.1h42.8v42.8h-42.8z"/><path fill="#cccccc" d="M401.7 105.7h127.3v42.8h-127.3z"/><path fill="#cecece" d="M401.7 401.7h127.3v42.8h-127.3zM401.7 443.9h127.3v42.8h-127.3zM401.7 486.2h127.3v42.8h-127.3z"/><path fill="#d0d0d0" d="M359.4 63.4h42.8v42.8h-42.8zM401.7 359.4h127.3v42.8h-127.3z"/><path fill="#d2d2d2" d="M401.7 317.1h127.3v42.8h-127.3z"/><path fill="#d4d4d4" d="M317.1 21.1h42.8v42.8h-42.8z"/><path fill="#d6d6d6" d="M401.7 148h127.3v42.8h-127.3zM401.7 274.8h127.3v42.8h-127.3z"/><path fill="#d8d8d8" d="M274.8 -105.7h42.8v42.8h-42.8zM274.8 -63.4h42.8v42.8h-42.8zM274.8 -21.1h42.8v42.8h-42.8z"/><path fill="#dadada" d="M401.7 232.5h127.3v42.8h-127.3zM359.4 401.7h42.8v42.8h-42.8zM359.4 443.9h42.8v42.8h-42.8zM359.4 486.2h42.8v42.8h-42.8z"/><path fill="#dcdcdc" d="M-105.7 -105.7h127.3v42.8h-127.3zM-105.7 -63.4h127.3v42.8h-127.3zM-105.7 -21.1h127.3v42.8h-127.3zM359.4 105.7h42.8v42.8h-42.8zM359.4 359.4h42.8v42.8h-42.8z"/><path fill="#dedede" d="M401.7 190.3h127.3v42.8h-127.3zM359.4 317.1h42.8v42.8h-42.8z"/><path fill="#e0e0e0" d="M-105.7 21.1h127.3v42.8h-127.3zM317.1 63.4h42.8v42.8h-42.8z"/><path fill="#e2e2e2" d="M274.8 21.1h42.8v42.8h-42.8zM-105.7 63.4h127.3v42.8h-127.3zM359.4 274.8h42.8v42.8h-42.8z"/><path fill="#e4e4e4" d="M21.1 -105.7h42.8v42.8h-42.8zM21.1 -63.4h42.8v42.8h-42.8zM21.1 -21.1h42.8v42.8h-42.8zM359.4 148h42.8v42.8h-42.8zM317.1 401.7h42.8v42.8h-42.8zM317.1 443.9h42.8v42.8h-42.8zM317.1 486.2h42.8v42.8h-42.8z"/><path fill="#e6e6e6" d="M232.5 -105.7h42.8v42.8h-42.8zM232.5 -63.4h42.8v42.8h-42.8zM232.5 -21.1h42.8v42.8h-42.8zM-105.7 105.7h127.3v42.8h-127.3zM-105.7 148h127.3v42.8h-127.3zM-105.7 190.3h127.3v42.8h-127.3zM-105.7 232.5h127.3v42.8h-127.3zM359.4 232.5h42.8v42.8h-42.8zM-105.7 274.8h127.3v42.8h-127.3zM-105.7 317.1h127.3v42.8h-127.3zM-105.7 359.4h127.3v42.8h-127.3zM317.1 359.4h42.8v42.8h-42.8zM-105.7 401.7h127.3v42.8h-127.3zM-105.7 443.9h127.3v42.8h-127.3zM-105.7 486.2h127.3v42.8h-127.3z"/><path fill="#e8e8e8" d="M21.1 21.1h42.8v42.8h-42.8z"/><path fill="#eaeaea" d="M21.1 63.4h42.8v42.8h-42.8zM317.1 105.7h42.8v42.8h-42.8zM359.4 190.3h42.8v42.8h-42.8zM317.1 317.1h42.8v42.8h-42.8z"/><path fill="#ececec" d="M63.4 -105.7h42.8v42.8h-42.8zM63.4 -63.4h42.8v42.8h-42.8zM63.4 -21.1h42.8v42.8h-42.8zM274.8 63.4h42.8v42.8h-42.8z"/><path fill="#eeeeee" d="M21.1 105.7h42.8v42.8h-42.8zM21.1 148h42.8v42.8h-42.8zM21.1 190.3h42.8v42.8h-42.8zM21.1 232.5h42.8v42.8h-42.8zM21.1 274.8h42.8v42.8h-42.8zM317.1 274.8h42.8v42.8h-42.8zM21.1 317.1h42.8v42.8h-42.8zM21.1 359.4h42.8v42.8h-42.8zM21.1 401.7h42.8v42.8h-42.8zM274.8 401.7h42.8v42.8h-42.8zM21.1 443.9h42.8v42.8h-42.8zM274.8 443.9h42.8v42.8h-42.8zM21.1 486.2h42.8v42.8h-42.8zM274.8 486.2h42.8v42.8h-42.8z"/><path fill="#f0f0f0" d="M63.4 21.1h42.8v42.8h-42.8zM232.5 21.1h42.8v42.8h-42.8zM317.1 148h42.8v42.8h-42.8zM274.8 359.4h42.8v42.8h-42.8z"/><path fill="#f2f2f2" d="M190.3 -105.7h42.8v42.8h-42.8zM190.3 -63.4h42.8v42.8h-42.8zM190.3 -21.1h42.8v42.8h-42.8zM63.4 63.4h42.8v42.8h-42.8zM317.1 232.5h42.8v42.8h-42.8z"/><path fill="#f4f4f4" d="M105.7 -105.7h42.8v42.8h-42.8zM105.7 -63.4h42.8v42.8h-42.8zM105.7 -21.1h42.8v42.8h-42.8zM274.8 317.1h42.8v42.8h-42.8z"/><path fill="#f6f6f6" d="M105.7 21.1h42.8v42.8h-42.8zM63.4 105.7h42.8v42.8h-42.8zM274.8 105.7h42.8v42.8h-42.8zM63.4 148h42.8v42.8h-42.8zM63.4 190.3h42.8v42.8h-42.8zM317.1 190.3h42.8v42.8h-42.8zM63.4 232.5h42.8v42.8h-42.8zM63.4 274.8h42.8v42.8h-42.8zM63.4 317.1h42.8v42.8h-42.8zM63.4 359.4h42.8v42.8h-42.8zM63.4 401.7h42.8v42.8h-42.8zM232.5 401.7h42.8v42.8h-42.8zM63.4 443.9h42.8v42.8h-42.8zM232.5 443.9h42.8v42.8h-42.8zM63.4 486.2h42.8v42.8h-42.8zM232.5 486.2h42.8v42.8h-42.8z"/><path fill="#f8f8f8" d="M148 -105.7h42.8v42.8h-42.8zM148 -63.4h42.8v42.8h-42.8zM148 -21.1h42.8v42.8h-42.8zM190.3 21.1h42.8v42.8h-42.8zM232.5 63.4h42.8v42.8h-42.8zM274.8 274.8h42.8v42.8h-42.8z"/><path fill="#fafafa" d="M148 21.1h42.8v42.8h-42.8zM105.7 63.4h42.8v42.8h-42.8zM274.8 148h42.8v42.8h-42.8zM274.8 232.5h42.8v42.8h-42.8zM232.5 359.4h42.8v42.8h-42.8z"/><path fill="#fcfcfc" d="M105.7 105.7h42.8v42.8h-42.8zM105.7 148h42.8v42.8h-42.8zM105.7 190.3h42.8v42.8h-42.8zM105.7 232.5h42.8v42.8h-42.8zM105.7 274.8h42.8v42.8h-42.8zM105.7 317.1h42.8v42.8h-42.8zM232.5 317.1h42.8v42.8h-42.8zM105.7 359.4h42.8v42.8h-42.8zM105.7 401.7h42.8v42.8h-42.8zM105.7 443.9h42.8v42.8h-42.8zM105.7 486.2h42.8v42.8h-42.8z"/><path fill="#fefefe" d="M148 63.4h85.1v42.8h-85.1zM232.5 105.7h42.8v42.8h-42.8zM274.8 190.3h42.8v42.8h-42.8zM232.5 274.8h42.8v42.8h-42.8zM190.3 401.7h42.8v42.8h-42.8zM190.3 443.9h42.8v42.8h-42.8zM190.3 486.2h42.8v42.8h-42.8z"/><path fill="#ffffff" d="M148 105.7h85.1v42.8h-85.1zM148 148h127.3v42.8h-127.3zM148 190.3h127.3v42.8h-127.3zM148 232.5h127.3v42.8h-127.3zM148 274.8h85.1v42.8h-85.1zM148 317.1h85.1v42.8h-85.1zM148 359.4h85.1v42.8h-85.1zM148 401.7h42.8v42.8h-42.8zM148 443.9h42.8v42.8h-42.8zM148 486.2h42.8v42.8h-42.8z"/></g></g></g><path d="M102.6 1938.0V1933.3M102.6 2366.3V2371.2M101.1 1939.5H96.3M526.9 1939.5H532.3M144.9 1938.0V1933.3M144.9 2366.3V2371.2M101.1 1982.0H96.3M526.9 1982.0H532.3M187.2 1938.0V1933.3M187.2 2366.3V2371.2M101.1 2024.6H96.3M526.9 2024.6H532.3M229.4 1938.0V1933.3M229.4 2366.3V2371.2M101.1 2067.1H96.3M526.9 2067.1H532.3M271.7 1938.0V1933.3M271.7 2366.3V2371.2M101.1 2109.6H96.3M526.9 2109.6H532.3M314.0 1938.0V1933.3M314.0 2366.3V2371.2M101.1 2152.2H96.3M526.9 2152.2H532.3M356.3 1938.0V1933.3M356.3 2366.3V2371.2M101.1 2194.7H96.3M526.9 2194.7H532.3M398.6 1938.0V1933.3M398.6 2366.3V2371.2M101.1 2237.2H96.3M526.9 2237.2H532.3M440.8 1938.0V1933.3M440.8 2366.3V2371.2M101.1 2279.7H96.3M526.9 2279.7H532.3M483.1 1938.0V1933.3M483.1 2366.3V2371.2M101.1 2322.3H96.3M526.9 2322.3H532.3M525.4 1938.0V1933.3M525.4 2366.3V2371.2M101.1 2364.8H96.3M526.9 2364.8H532.3" stroke="#000" stroke-width="3" fill="none"/><rect x="102.6" y="1939.5" width="422.8" height="425.3" fill="none" stroke="#000" stroke-width="3.2"/><text x="102.8" y="2402.3" font-size="30.5" text-anchor="middle" >-5</text><text x="96.0" y="1953.3" font-size="30.5" text-anchor="end" >5</text><text x="145.1" y="2402.3" font-size="30.5" text-anchor="middle" >-4</text><text x="96.0" y="1995.8" font-size="30.5" text-anchor="end" >4</text><text x="187.4" y="2402.3" font-size="30.5" text-anchor="middle" >-3</text><text x="96.0" y="2038.4" font-size="30.5" text-anchor="end" >3</text><text x="229.6" y="2402.3" font-size="30.5" text-anchor="middle" >-2</text><text x="96.0" y="2080.9" font-size="30.5" text-anchor="end" >2</text><text x="271.9" y="2402.3" font-size="30.5" text-anchor="middle" >-1</text><text x="96.0" y="2123.4" font-size="30.5" text-anchor="end" >1</text><text x="313.8" y="2402.3" font-size="30.5" text-anchor="middle" >0</text><text x="96.0" y="2166.0" font-size="30.5" text-anchor="end" >0</text><text x="356.1" y="2402.3" font-size="30.5" text-anchor="middle" >1</text><text x="96.0" y="2208.5" font-size="30.5" text-anchor="end" >-1</text><text x="398.4" y="2402.3" font-size="30.5" text-anchor="middle" >2</text><text x="96.0" y="2251.0" font-size="30.5" text-anchor="end" >-2</text><text x="440.6" y="2402.3" font-size="30.5" text-anchor="middle" >3</text><text x="96.0" y="2293.5" font-size="30.5" text-anchor="end" >-3</text><text x="482.9" y="2402.3" font-size="30.5" text-anchor="middle" >4</text><text x="96.0" y="2336.1" font-size="30.5" text-anchor="end" >-4</text><text x="525.2" y="2402.3" font-size="30.5" text-anchor="middle" >5</text><text x="96.0" y="2378.6" font-size="30.5" text-anchor="end" >-5</text><rect x="551.5" y="1940.0" width="26.3" height="425.7" fill="url(#cm2)"/><text x="585.6" y="1957.6" font-size="30.5" text-anchor="start" >7</text><text x="585.6" y="2063.1" font-size="30.5" text-anchor="start" >3.5</text><text x="585.6" y="2168.6" font-size="30.5" text-anchor="start" >0</text><text x="585.6" y="2274.1" font-size="30.5" text-anchor="start" >-3.5</text><text x="585.6" y="2379.6" font-size="30.5" text-anchor="start" >-7</text><text x="-1.0" y="1917.5" font-size="52" text-anchor="start" >(f)</text><text x="325.8" y="2451.9" font-size="42.5" text-anchor="middle" ><tspan font-style="italic">x</tspan>-axis (mm)</text><text transform="translate(46.8 2152.0) rotate(-90)" font-size="41.4" text-anchor="middle" ><tspan font-style="italic">y</tspan>-axis (mm)</text><text transform="translate(693.1 2151.8) rotate(-90)" font-size="42.5" text-anchor="middle" >Ratio of E<tspan font-size="27" font-style="italic" dy="10">x</tspan><tspan dy="-10"> / E</tspan><tspan font-size="27" font-style="italic" dy="10">y</tspan><tspan dy="-10"> (dB)</tspan></text>
<g transform="translate(871.0 1939.5)"><g clip-path="url(#cpg)"><g filter="url(#fG)"><path fill="#606060" d="M404.4 404.4h128.2v43.1h-128.2zM404.4 447h128.2v43.1h-128.2zM404.4 489.6h128.2v43.1h-128.2z"/><path fill="#646464" d="M404.4 361.8h128.2v43.1h-128.2z"/><path fill="#666666" d="M361.8 404.4h43.1v43.1h-43.1zM361.8 447h43.1v43.1h-43.1zM361.8 489.6h43.1v43.1h-43.1z"/><path fill="#6a6a6a" d="M361.8 361.8h43.1v43.1h-43.1z"/><path fill="#707070" d="M404.4 319.3h128.2v43.1h-128.2z"/><path fill="#727272" d="M319.3 404.4h43.1v43.1h-43.1zM319.3 447h43.1v43.1h-43.1zM319.3 489.6h43.1v43.1h-43.1z"/><path fill="#747474" d="M361.8 319.3h43.1v43.1h-43.1zM319.3 361.8h43.1v43.1h-43.1z"/><path fill="#767676" d="M21.3 404.4h43.1v43.1h-43.1zM21.3 447h43.1v43.1h-43.1zM21.3 489.6h43.1v43.1h-43.1z"/><path fill="#7a7a7a" d="M-106.4 63.9h128.2v43.1h-128.2zM319.3 319.3h43.1v43.1h-43.1zM-106.4 404.4h128.2v43.1h-128.2zM63.9 404.4h43.1v43.1h-43.1zM-106.4 447h128.2v43.1h-128.2zM63.9 447h43.1v43.1h-43.1zM-106.4 489.6h128.2v43.1h-128.2zM63.9 489.6h43.1v43.1h-43.1z"/><path fill="#7c7c7c" d="M-106.4 21.3h128.2v43.1h-128.2zM404.4 276.7h128.2v43.1h-128.2zM21.3 361.8h43.1v43.1h-43.1zM276.7 361.8h43.1v43.1h-43.1zM276.7 404.4h43.1v43.1h-43.1zM276.7 447h43.1v43.1h-43.1zM276.7 489.6h43.1v43.1h-43.1z"/><path fill="#7e7e7e" d="M361.8 276.7h43.1v43.1h-43.1zM-106.4 361.8h128.2v43.1h-128.2zM63.9 361.8h43.1v43.1h-43.1zM106.4 404.4h43.1v43.1h-43.1zM106.4 447h43.1v43.1h-43.1zM106.4 489.6h43.1v43.1h-43.1z"/><path fill="#808080" d="M21.3 21.3h43.1v43.1h-43.1zM21.3 63.9h43.1v43.1h-43.1zM276.7 319.3h43.1v43.1h-43.1z"/><path fill="#828282" d="M-106.4 -106.4h128.2v43.1h-128.2zM-106.4 -63.9h128.2v43.1h-128.2zM-106.4 -21.3h128.2v43.1h-128.2zM319.3 276.7h43.1v43.1h-43.1zM106.4 361.8h43.1v43.1h-43.1zM234.1 404.4h43.1v43.1h-43.1zM234.1 447h43.1v43.1h-43.1zM234.1 489.6h43.1v43.1h-43.1z"/><path fill="#848484" d="M361.8 234.1h170.8v43.1h-170.8zM149 361.8h43.1v43.1h-43.1zM234.1 361.8h43.1v43.1h-43.1zM149 404.4h85.6v43.1h-85.6zM149 447h85.6v43.1h-85.6zM149 489.6h85.6v43.1h-85.6z"/><path fill="#868686" d="M21.3 -106.4h43.1v43.1h-43.1zM21.3 -63.9h43.1v43.1h-43.1zM21.3 -21.3h43.1v43.1h-43.1zM-106.4 106.4h128.2v43.1h-128.2zM319.3 234.1h43.1v43.1h-43.1zM276.7 276.7h43.1v43.1h-43.1zM234.1 319.3h43.1v43.1h-43.1zM191.6 361.8h43.1v43.1h-43.1z"/><path fill="#888888" d="M361.8 191.6h170.8v43.1h-170.8zM276.7 234.1h43.1v43.1h-43.1zM234.1 276.7h43.1v43.1h-43.1zM191.6 319.3h43.1v43.1h-43.1z"/><path fill="#8a8a8a" d="M63.9 21.3h43.1v43.1h-43.1zM361.8 149h170.8v43.1h-170.8zM319.3 191.6h43.1v43.1h-43.1zM63.9 319.3h128.2v43.1h-128.2z"/><path fill="#8c8c8c" d="M63.9 -106.4h43.1v43.1h-43.1zM63.9 -63.9h43.1v43.1h-43.1zM63.9 -21.3h43.1v43.1h-43.1zM63.9 63.9h43.1v43.1h-43.1zM21.3 106.4h43.1v43.1h-43.1zM319.3 149h43.1v43.1h-43.1zM276.7 191.6h43.1v43.1h-43.1zM234.1 234.1h43.1v43.1h-43.1zM191.6 276.7h43.1v43.1h-43.1zM-106.4 319.3h170.8v43.1h-170.8z"/><path fill="#8e8e8e" d="M361.8 106.4h170.8v43.1h-170.8zM276.7 149h43.1v43.1h-43.1z"/><path fill="#909090" d="M319.3 106.4h43.1v43.1h-43.1zM234.1 191.6h43.1v43.1h-43.1zM191.6 234.1h43.1v43.1h-43.1zM149 276.7h43.1v43.1h-43.1z"/><path fill="#929292" d="M106.4 -106.4h43.1v43.1h-43.1zM106.4 -63.9h43.1v43.1h-43.1zM106.4 -21.3h43.1v43.1h-43.1zM276.7 106.4h43.1v43.1h-43.1z"/><path fill="#949494" d="M106.4 21.3h43.1v43.1h-43.1zM234.1 149h43.1v43.1h-43.1zM106.4 276.7h43.1v43.1h-43.1z"/><path fill="#969696" d="M404.4 63.9h128.2v43.1h-128.2zM63.9 106.4h43.1v43.1h-43.1zM234.1 106.4h43.1v43.1h-43.1zM191.6 191.6h43.1v43.1h-43.1zM149 234.1h43.1v43.1h-43.1z"/><path fill="#989898" d="M106.4 63.9h43.1v43.1h-43.1zM276.7 63.9h128.2v43.1h-128.2zM-106.4 149h128.2v43.1h-128.2z"/><path fill="#9a9a9a" d="M149 -106.4h43.1v43.1h-43.1zM149 -63.9h43.1v43.1h-43.1zM149 -21.3h43.1v43.1h-43.1zM191.6 149h43.1v43.1h-43.1z"/><path fill="#9c9c9c" d="M149 21.3h43.1v43.1h-43.1zM149 63.9h43.1v43.1h-43.1zM234.1 63.9h43.1v43.1h-43.1zM106.4 106.4h43.1v43.1h-43.1zM191.6 106.4h43.1v43.1h-43.1zM21.3 149h43.1v43.1h-43.1zM149 191.6h43.1v43.1h-43.1zM63.9 276.7h43.1v43.1h-43.1z"/><path fill="#9e9e9e" d="M191.6 -106.4h43.1v43.1h-43.1zM191.6 -63.9h43.1v43.1h-43.1zM191.6 -21.3h43.1v43.1h-43.1zM191.6 63.9h43.1v43.1h-43.1zM149 106.4h43.1v43.1h-43.1zM149 149h43.1v43.1h-43.1z"/><path fill="#a0a0a0" d="M234.1 -106.4h43.1v43.1h-43.1zM234.1 -63.9h43.1v43.1h-43.1zM234.1 -21.3h43.1v43.1h-43.1zM191.6 21.3h341.1v43.1h-341.1zM63.9 149h43.1v43.1h-43.1zM106.4 234.1h43.1v43.1h-43.1zM21.3 276.7h43.1v43.1h-43.1z"/><path fill="#a2a2a2" d="M276.7 -106.4h85.6v43.1h-85.6zM404.4 -106.4h128.2v43.1h-128.2zM276.7 -63.9h85.6v43.1h-85.6zM404.4 -63.9h128.2v43.1h-128.2zM276.7 -21.3h85.6v43.1h-85.6zM404.4 -21.3h128.2v43.1h-128.2zM106.4 149h43.1v43.1h-43.1zM-106.4 276.7h128.2v43.1h-128.2z"/><path fill="#a4a4a4" d="M361.8 -106.4h43.1v43.1h-43.1zM361.8 -63.9h43.1v43.1h-43.1zM361.8 -21.3h43.1v43.1h-43.1zM106.4 191.6h43.1v43.1h-43.1z"/><path fill="#a8a8a8" d="M63.9 234.1h43.1v43.1h-43.1z"/><path fill="#aaaaaa" d="M-106.4 191.6h128.2v43.1h-128.2zM63.9 191.6h43.1v43.1h-43.1z"/><path fill="#acacac" d="M21.3 191.6h43.1v43.1h-43.1z"/><path fill="#aeaeae" d="M21.3 234.1h43.1v43.1h-43.1z"/><path fill="#b0b0b0" d="M-106.4 234.1h128.2v43.1h-128.2z"/></g></g></g><path d="M871.0 1938.0V1933.3M871.0 2367.4V2372.3M869.5 1939.5H864.7M1298.2 1939.5H1303.6M913.6 1938.0V1933.3M913.6 2367.4V2372.3M869.5 1982.1H864.7M1298.2 1982.1H1303.6M956.1 1938.0V1933.3M956.1 2367.4V2372.3M869.5 2024.8H864.7M1298.2 2024.8H1303.6M998.7 1938.0V1933.3M998.7 2367.4V2372.3M869.5 2067.4H864.7M1298.2 2067.4H1303.6M1041.3 1938.0V1933.3M1041.3 2367.4V2372.3M869.5 2110.1H864.7M1298.2 2110.1H1303.6M1083.8 1938.0V1933.3M1083.8 2367.4V2372.3M869.5 2152.7H864.7M1298.2 2152.7H1303.6M1126.4 1938.0V1933.3M1126.4 2367.4V2372.3M869.5 2195.3H864.7M1298.2 2195.3H1303.6M1169.0 1938.0V1933.3M1169.0 2367.4V2372.3M869.5 2238.0H864.7M1298.2 2238.0H1303.6M1211.6 1938.0V1933.3M1211.6 2367.4V2372.3M869.5 2280.6H864.7M1298.2 2280.6H1303.6M1254.1 1938.0V1933.3M1254.1 2367.4V2372.3M869.5 2323.3H864.7M1298.2 2323.3H1303.6M1296.7 1938.0V1933.3M1296.7 2367.4V2372.3M869.5 2365.9H864.7M1298.2 2365.9H1303.6" stroke="#000" stroke-width="3" fill="none"/><rect x="871.0" y="1939.5" width="425.7" height="426.4" fill="none" stroke="#000" stroke-width="3.2"/><text x="871.2" y="2403.4" font-size="30.5" text-anchor="middle" >-5</text><text x="864.4" y="1953.3" font-size="30.5" text-anchor="end" >5</text><text x="913.8" y="2403.4" font-size="30.5" text-anchor="middle" >-4</text><text x="864.4" y="1995.9" font-size="30.5" text-anchor="end" >4</text><text x="956.3" y="2403.4" font-size="30.5" text-anchor="middle" >-3</text><text x="864.4" y="2038.6" font-size="30.5" text-anchor="end" >3</text><text x="998.9" y="2403.4" font-size="30.5" text-anchor="middle" >-2</text><text x="864.4" y="2081.2" font-size="30.5" text-anchor="end" >2</text><text x="1041.5" y="2403.4" font-size="30.5" text-anchor="middle" >-1</text><text x="864.4" y="2123.9" font-size="30.5" text-anchor="end" >1</text><text x="1083.6" y="2403.4" font-size="30.5" text-anchor="middle" >0</text><text x="864.4" y="2166.5" font-size="30.5" text-anchor="end" >0</text><text x="1126.2" y="2403.4" font-size="30.5" text-anchor="middle" >1</text><text x="864.4" y="2209.1" font-size="30.5" text-anchor="end" >-1</text><text x="1168.8" y="2403.4" font-size="30.5" text-anchor="middle" >2</text><text x="864.4" y="2251.8" font-size="30.5" text-anchor="end" >-2</text><text x="1211.4" y="2403.4" font-size="30.5" text-anchor="middle" >3</text><text x="864.4" y="2294.4" font-size="30.5" text-anchor="end" >-3</text><text x="1253.9" y="2403.4" font-size="30.5" text-anchor="middle" >4</text><text x="864.4" y="2337.1" font-size="30.5" text-anchor="end" >-4</text><text x="1296.5" y="2403.4" font-size="30.5" text-anchor="middle" >5</text><text x="864.4" y="2379.7" font-size="30.5" text-anchor="end" >-5</text><rect x="1317.9" y="1940.0" width="26.1" height="425.3" fill="url(#cm2)"/><text x="1352.0" y="1957.6" font-size="30.5" text-anchor="start" >7</text><text x="1352.0" y="2063.1" font-size="30.5" text-anchor="start" >3.5</text><text x="1352.0" y="2168.6" font-size="30.5" text-anchor="start" >0</text><text x="1352.0" y="2274.1" font-size="30.5" text-anchor="start" >-3.5</text><text x="1352.0" y="2379.6" font-size="30.5" text-anchor="start" >-7</text><text x="768.0" y="1917.5" font-size="52" text-anchor="start" >(g)</text><text x="1095.0" y="2455.9" font-size="42.5" text-anchor="middle" ><tspan font-style="italic">x</tspan>-axis (mm)</text><text transform="translate(815.7 2152.5) rotate(-90)" font-size="41.4" text-anchor="middle" ><tspan font-style="italic">y</tspan>-axis (mm)</text><text transform="translate(1462.0 2151.8) rotate(-90)" font-size="42.5" text-anchor="middle" >Ratio of E<tspan font-size="27" font-style="italic" dy="10">x</tspan><tspan dy="-10"> / E</tspan><tspan font-size="27" font-style="italic" dy="10">y</tspan><tspan dy="-10"> (dB)</tspan></text>
</svg>
</body></html>
